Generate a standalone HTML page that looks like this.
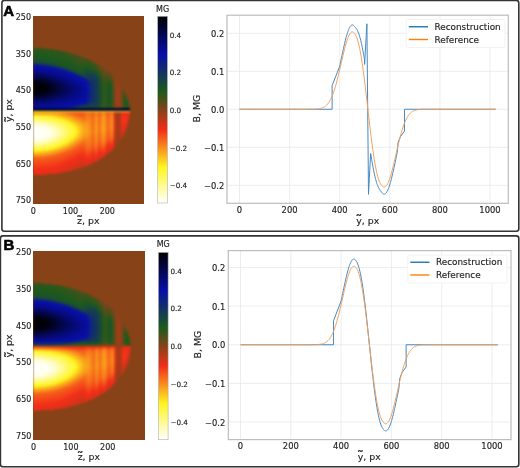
<!DOCTYPE html>
<html><head><meta charset="utf-8"><style>
html,body{margin:0;padding:0;background:#fff;}
#w{position:relative;width:520px;height:468px;overflow:hidden;background:#fff;filter:blur(0.3px);}
.hm{position:absolute;}
.hm div{position:absolute;width:1px;}
.bg{position:absolute;background:#884218;}
svg{position:absolute;left:0;top:0;}
text{font-family:"DejaVu Sans","Liberation Sans",sans-serif;fill:#1e1e1e;stroke:#1e1e1e;stroke-width:0.15px;}
.lab{font-family:"Liberation Sans","DejaVu Sans",sans-serif;font-weight:bold;font-size:15px;fill:#000;stroke:#000;stroke-width:0.6px;}
.t8{font-size:8px;}
.t7{font-size:7.2px;}
.t85{font-size:8.4px;}
.t87{font-size:8.85px;}
.al{font-size:9.4px;}
.tl{font-size:10px;stroke-width:0.3px;}
.grid{stroke:#e8e8e8;stroke-width:0.8;}
</style></head><body><div id="w">

<div class="bg" style="left:32.70px;top:16.10px;width:111.20px;height:188.40px;overflow:hidden"><div class="hm" style="left:-32.70px;top:-16.10px;width:520px;height:468px;filter:blur(0.8px)">
<div style="left:33px;top:16.10px;height:188.40px;background:linear-gradient(#884218 0.0px,#884218 32.0px,#31561a 32.5px,#1e5a1b 38.5px,#1c5229 45.0px,#174445 47.0px,#09139f 49.5px,#080ea7 51.0px,#070c8d 55.0px,#000108 66.5px,#000000 72.0px,#000108 77.5px,#050967 85.5px,#070c90 89.5px,#070d9d 91.5px,#03053b 92.0px,#03053b 94.5px,#fff51e 95.0px,#fff51e 96.0px,#faa51c 96.5px,#faa51c 99.0px,#fff41e 99.5px,#fffcc6 107.5px,#fffeee 110.5px,#fffffe 117.0px,#fffef1 123.5px,#fffdca 126.5px,#fff523 134.5px,#ffee1e 135.0px,#fbb51c 137.5px,#f5611a 142.5px,#f33619 151.5px,#f12d19 154.5px,#e23019 159.0px,#884218 159.5px,#884218 188.0px)"></div>
<div style="left:34px;top:16.10px;height:188.40px;background:linear-gradient(#884218 0.0px,#884218 32.0px,#32561a 32.5px,#1e5a1b 38.5px,#1c5229 45.0px,#184444 47.0px,#09139f 49.5px,#080ea7 51.0px,#070c8d 55.0px,#000108 66.5px,#000001 72.0px,#000108 77.5px,#050967 85.5px,#070c8c 89.0px,#070d9d 91.5px,#03053b 92.0px,#03053b 94.5px,#fff51e 95.0px,#fff51e 96.0px,#faa51c 96.5px,#faa51c 99.0px,#fff31e 99.5px,#fffcc5 107.5px,#fffff4 111.0px,#fffffe 117.0px,#fffef1 123.5px,#fffdc9 126.5px,#fff523 134.5px,#ffee1e 135.0px,#fbb51c 137.5px,#f5611a 142.5px,#f33619 151.5px,#f12d19 154.5px,#e23019 159.0px,#884218 159.5px,#884218 188.0px)"></div>
<div style="left:35px;top:16.10px;height:188.40px;background:linear-gradient(#884218 0.0px,#884218 32.0px,#32561a 32.5px,#1e5a1b 38.5px,#1c5229 45.0px,#184443 47.0px,#0a139e 49.5px,#080ea7 51.0px,#070c8d 55.0px,#000108 66.5px,#000002 72.0px,#000108 77.5px,#050968 85.5px,#070c8c 89.0px,#070d9d 91.5px,#03053b 92.0px,#03053b 94.5px,#fff51e 95.0px,#fff51e 96.0px,#faa51c 96.5px,#faa51c 99.0px,#fff31e 99.5px,#fff529 100.0px,#fffcc4 107.5px,#fffef3 111.0px,#fffffd 117.0px,#fffef0 123.5px,#fffdc9 126.5px,#fff522 134.5px,#feed1e 135.0px,#fbb41c 137.5px,#f5611a 142.5px,#f22e19 154.0px,#e33019 158.5px,#884218 159.0px,#884218 188.0px)"></div>
<div style="left:36px;top:16.10px;height:188.40px;background:linear-gradient(#884218 0.0px,#884218 32.0px,#32561a 32.5px,#1e5a1b 38.5px,#1c5329 45.0px,#184541 47.0px,#0a149d 49.5px,#080ea8 51.0px,#070c8e 55.0px,#000108 67.0px,#000002 72.0px,#000108 77.5px,#050968 85.5px,#070c8c 89.0px,#070d9d 91.5px,#03053b 92.0px,#03053b 94.5px,#fff51e 95.0px,#fff51e 96.0px,#faa51c 96.5px,#faa51c 99.0px,#fff21e 99.5px,#fff528 100.0px,#fffcc3 107.5px,#fffef2 111.0px,#fffffc 117.0px,#fffeef 123.5px,#fffdc8 126.5px,#fff521 134.5px,#feec1e 135.0px,#fbb31c 137.5px,#f5601a 142.5px,#f22e19 154.0px,#e33019 158.5px,#884218 159.0px,#884218 188.0px)"></div>
<div style="left:37px;top:16.10px;height:188.40px;background:linear-gradient(#884218 0.0px,#884218 32.0px,#32561a 32.5px,#1e5a1b 38.5px,#1c5329 45.0px,#18463f 47.0px,#0a159b 49.5px,#080ea8 51.0px,#070c8e 55.0px,#000108 67.0px,#000003 72.0px,#000109 77.5px,#050968 85.5px,#070c8d 89.0px,#070d9d 91.5px,#03053b 92.0px,#03053b 94.5px,#fff51e 95.0px,#fff51e 96.0px,#faa51c 96.5px,#faa51c 99.0px,#fff11e 99.5px,#fff527 100.0px,#fffcc2 107.5px,#fffef1 111.0px,#fffffb 117.0px,#fffef3 123.0px,#fffcc6 126.5px,#fff520 134.5px,#feeb1e 135.0px,#fbb31c 137.5px,#f5601a 142.5px,#f22d19 154.0px,#e33019 158.5px,#884218 159.0px,#884218 188.0px)"></div>
<div style="left:38px;top:16.10px;height:188.40px;background:linear-gradient(#884218 0.0px,#884218 32.0px,#32551a 32.5px,#1e5a1b 38.5px,#1c5329 45.0px,#19473e 47.0px,#0a1699 49.5px,#080ea8 51.0px,#070c8f 55.0px,#000108 67.0px,#000003 72.5px,#00010a 77.5px,#050969 85.5px,#070c8d 89.0px,#080d9e 91.5px,#03053b 92.0px,#03053b 94.5px,#fff51e 95.0px,#fff51e 96.0px,#faa51c 96.5px,#faa51c 99.0px,#fff01e 99.5px,#fff525 100.0px,#fffcc0 107.5px,#fffee2 110.0px,#fffff4 111.5px,#fffffb 117.0px,#fffff4 122.5px,#fffedf 124.5px,#fffcc4 126.5px,#fff51e 134.5px,#fbb21c 137.5px,#f55f1a 142.5px,#f33719 151.0px,#f22d19 154.0px,#e33019 158.5px,#884218 159.0px,#884218 188.0px)"></div>
<div style="left:39px;top:16.10px;height:188.40px;background:linear-gradient(#884218 0.0px,#884218 32.0px,#32551a 32.5px,#1e5a1b 38.5px,#1c5328 45.0px,#19483d 47.0px,#0b1797 49.5px,#0911a2 50.0px,#080ea7 51.0px,#070c8b 55.5px,#020329 64.0px,#000108 67.5px,#000108 77.0px,#02042c 80.5px,#050865 85.0px,#070c8e 89.0px,#080d9e 91.5px,#03053b 92.0px,#03053b 94.5px,#fff51e 95.0px,#fff51e 96.0px,#faa51c 96.5px,#faa51c 99.0px,#ffef1e 99.5px,#fff524 100.0px,#fffdce 108.5px,#fffef3 111.5px,#fffffa 117.0px,#fffff4 122.5px,#fffdd0 125.5px,#fffcc1 126.5px,#fff31e 134.5px,#fbb01c 137.5px,#f55f1a 142.5px,#f33719 151.0px,#f22d19 154.0px,#e33019 158.5px,#884218 159.0px,#884218 188.0px)"></div>
<div style="left:40px;top:16.10px;height:188.40px;background:linear-gradient(#884218 0.0px,#884218 32.0px,#33551a 32.5px,#1e5a1b 38.5px,#1c5328 45.0px,#19483c 47.0px,#0912a1 50.0px,#080fa7 51.0px,#070c8c 55.5px,#000108 67.5px,#000109 77.0px,#050866 85.0px,#070c8e 89.0px,#080d9e 91.5px,#03053b 92.0px,#03053b 94.5px,#fff51e 95.0px,#fff51e 96.0px,#faa51c 96.5px,#faa51c 99.0px,#ffed1e 99.5px,#fff522 100.0px,#fffdcc 108.5px,#fffff4 112.0px,#fffff9 117.0px,#fffef2 122.5px,#fffdc8 126.0px,#fff11e 134.5px,#faaf1c 137.5px,#f55e1a 142.5px,#f33719 151.0px,#f22d19 154.0px,#e33019 158.5px,#884218 159.0px,#884218 188.0px)"></div>
<div style="left:41px;top:16.10px;height:188.40px;background:linear-gradient(#884218 0.0px,#884218 32.0px,#33551a 32.5px,#1f5a1b 38.5px,#1c5229 45.5px,#174247 47.5px,#0912a1 50.0px,#080ea7 51.5px,#070c8d 55.5px,#020327 64.5px,#000108 68.0px,#000108 76.5px,#070c8f 89.0px,#080d9f 91.5px,#03053b 92.0px,#03053b 94.5px,#fff51e 95.0px,#fff51e 96.0px,#faa51c 96.5px,#faa51c 99.0px,#feec1e 99.5px,#fff520 100.0px,#fffdca 108.5px,#fffef3 112.0px,#fffff8 117.0px,#fffff4 122.0px,#fffdcc 125.5px,#fff524 134.0px,#ffef1e 134.5px,#fbb61c 137.0px,#f6631a 142.0px,#f33619 151.0px,#f22d19 154.0px,#e23019 158.5px,#884218 159.0px,#884218 188.0px)"></div>
<div style="left:42px;top:16.10px;height:188.40px;background:linear-gradient(#884218 0.0px,#884218 32.0px,#33551a 32.5px,#1e5a1b 39.0px,#1c5229 45.5px,#184443 47.5px,#0a149d 50.0px,#080ea8 51.5px,#070c8e 55.5px,#000109 68.0px,#00010a 76.5px,#070c8b 88.5px,#080d9f 91.5px,#03053b 92.0px,#03053b 94.5px,#fff51e 95.0px,#fff51e 96.0px,#faa51c 96.5px,#faa51c 99.0px,#feea1e 99.5px,#fff51e 100.0px,#fffdc8 108.5px,#fffff4 112.5px,#fffff8 117.0px,#fffff4 121.5px,#fffdc9 125.5px,#fff521 134.0px,#feec1e 134.5px,#fbb41c 137.0px,#f5621a 142.0px,#f22e19 153.5px,#e23019 158.5px,#884218 159.0px,#884218 188.0px)"></div>
<div style="left:43px;top:16.10px;height:188.40px;background:linear-gradient(#884218 0.0px,#884218 32.0px,#33551a 32.5px,#1e5a1b 39.0px,#1c5329 45.5px,#19473e 47.5px,#0a1699 50.0px,#080ea8 51.5px,#070c8f 55.5px,#02042c 64.5px,#000108 68.5px,#000109 76.0px,#020328 79.5px,#070c8c 88.5px,#080da0 91.5px,#03053b 92.0px,#03053b 94.5px,#fff51e 95.0px,#fff51e 96.0px,#faa51c 96.5px,#faa51c 99.0px,#fee81e 99.5px,#fff528 100.5px,#fffdcc 109.0px,#fffef2 112.5px,#fffff7 117.0px,#fffef2 121.5px,#fffdc7 125.5px,#fff41e 134.0px,#fbb21c 137.0px,#f5601a 142.0px,#f33619 151.0px,#f12d19 154.0px,#e23019 158.5px,#884218 159.0px,#884218 188.0px)"></div>
<div style="left:44px;top:16.10px;height:188.40px;background:linear-gradient(#884218 0.0px,#884218 32.0px,#34551a 32.5px,#1e5a1b 39.0px,#1c5328 45.5px,#19483d 47.5px,#0b1895 50.0px,#0911a2 50.5px,#080fa7 51.5px,#070c8c 56.0px,#02032a 65.0px,#000109 69.0px,#000109 75.5px,#02032a 79.5px,#070c8d 88.5px,#080da0 91.5px,#03053b 92.0px,#03053b 94.5px,#fff51e 95.0px,#fff51e 96.0px,#faa51c 96.5px,#faa51c 99.0px,#fee51e 99.5px,#fff525 100.5px,#fffdc9 109.0px,#fffef2 113.0px,#fffff6 117.0px,#fffef2 121.0px,#fffdca 125.0px,#fff11e 134.0px,#fbb01c 137.0px,#f55f1a 142.0px,#f33519 151.0px,#f22d19 153.5px,#e23019 158.5px,#884218 159.0px,#884218 188.0px)"></div>
<div style="left:45px;top:16.10px;height:188.40px;background:linear-gradient(#884218 0.0px,#884218 32.5px,#33551a 33.0px,#1f5a1b 39.0px,#1c5328 45.5px,#19493b 47.5px,#0912a1 50.5px,#080ea7 52.0px,#070c8e 56.0px,#020328 65.5px,#000108 70.0px,#000108 74.5px,#010213 76.5px,#02042d 79.5px,#070c8e 88.5px,#080da1 91.5px,#03053b 92.0px,#03053b 94.5px,#fff51e 95.0px,#fff51e 96.0px,#faa51c 96.5px,#faa51c 99.0px,#fee31e 99.5px,#fff522 100.5px,#fffcc6 109.0px,#fffef2 113.5px,#fffff5 117.0px,#fffef2 120.5px,#fffcc6 125.0px,#fff522 133.5px,#ffee1e 134.0px,#fbb61c 136.5px,#f55e1a 142.0px,#f22d19 153.5px,#e13019 158.5px,#884218 159.0px,#884218 188.0px)"></div>
<div style="left:46px;top:16.10px;height:188.40px;background:linear-gradient(#884218 0.0px,#884218 32.5px,#33551a 33.0px,#1e5a1b 39.5px,#1c5329 46.0px,#184541 48.0px,#0a159b 50.5px,#080ea8 52.0px,#070c8f 56.0px,#02042b 65.5px,#000109 70.5px,#000109 74.0px,#01021a 77.0px,#070c8f 88.5px,#080da1 91.5px,#03053b 92.0px,#03053b 94.5px,#fff51e 95.0px,#fff51e 96.0px,#faa41c 96.5px,#faa51c 99.0px,#fee01d 99.5px,#fff51f 100.5px,#fffdc9 109.5px,#fffef1 114.0px,#fffff5 117.0px,#fffef1 120.0px,#fffdc8 124.5px,#fff51e 133.5px,#fbb31c 136.5px,#f5621a 141.5px,#f33619 150.5px,#f22d19 153.5px,#e13019 158.5px,#884218 159.0px,#884218 188.0px)"></div>
<div style="left:47px;top:16.10px;height:188.40px;background:linear-gradient(#884218 0.0px,#884218 32.5px,#33551a 33.0px,#1e5a1b 39.5px,#1c5329 46.0px,#19483d 48.0px,#0b1896 50.5px,#0911a2 51.0px,#080fa7 52.0px,#070c8d 56.5px,#020326 66.5px,#01010c 71.0px,#01010d 74.0px,#020321 77.5px,#070c8b 88.0px,#080ea2 91.5px,#03053b 92.0px,#03053b 94.5px,#fff51e 95.0px,#fff51e 96.0px,#faa21c 96.5px,#faa51c 99.0px,#fddd1d 99.5px,#fff31e 100.5px,#fff528 101.0px,#fffcc5 109.5px,#fffeec 114.0px,#fffff4 117.0px,#fffeec 120.0px,#fffdca 124.0px,#fff11e 133.5px,#fbb01c 136.5px,#f55f1a 141.5px,#f22e19 153.0px,#e23019 158.0px,#884218 158.5px,#884218 188.0px)"></div>
<div style="left:48px;top:16.10px;height:188.40px;background:linear-gradient(#884218 0.0px,#884218 32.5px,#34551a 33.0px,#1e5a1b 39.5px,#1c5328 46.0px,#19493b 48.0px,#0912a0 51.0px,#080ea7 52.5px,#070c8f 56.5px,#020329 66.5px,#010111 71.0px,#010111 74.0px,#020324 77.5px,#070c8d 88.0px,#080ea3 91.5px,#03053b 92.0px,#03053b 94.5px,#fff51e 95.0px,#fff51e 96.0px,#f9a01c 96.5px,#faa51c 99.0px,#fdda1d 99.5px,#fff524 101.0px,#fffdc8 110.0px,#fffee7 114.0px,#fffef0 117.0px,#fffee6 120.0px,#fffcc5 124.0px,#fff520 133.0px,#feec1e 133.5px,#fbb61c 136.0px,#f55e1a 141.5px,#f22d19 153.0px,#e23019 158.0px,#884218 158.5px,#884218 188.0px)"></div>
<div style="left:49px;top:16.10px;height:188.40px;background:linear-gradient(#884218 0.0px,#884218 32.5px,#34551a 33.0px,#1e5a1b 40.0px,#1c5329 46.5px,#184640 48.5px,#0a169a 51.0px,#080ea8 52.5px,#070c8c 57.0px,#020329 67.0px,#010215 71.0px,#010216 74.0px,#020327 77.5px,#070c8e 88.0px,#080ea4 91.5px,#03053b 92.0px,#03053b 94.5px,#fff51e 95.0px,#fff51e 96.0px,#f99e1c 96.5px,#faa51c 97.0px,#faa51c 99.0px,#fdd71d 99.5px,#fff521 101.0px,#fff637 102.0px,#fffdc9 110.5px,#fffee3 114.0px,#fffeea 117.0px,#fffee1 120.0px,#fffcc6 123.5px,#fff21e 133.0px,#fbb21c 136.0px,#f5621a 141.0px,#f33719 150.0px,#f22d19 153.0px,#e13019 158.0px,#884218 158.5px,#884218 188.0px)"></div>
<div style="left:50px;top:16.10px;height:188.40px;background:linear-gradient(#884218 0.0px,#884218 33.0px,#33551a 33.5px,#1e5a1b 40.0px,#1c5328 46.5px,#19483d 48.5px,#0912a1 51.5px,#080ea7 53.0px,#070c8e 57.0px,#02032a 67.5px,#010218 72.5px,#02042b 77.5px,#070c8f 88.0px,#080ea4 91.5px,#03053b 92.0px,#03053b 94.5px,#fff51e 95.0px,#fff51e 96.0px,#f99c1c 96.5px,#faa41c 97.0px,#faa51c 99.0px,#fdd41d 99.5px,#fff41e 101.0px,#fffcc4 110.5px,#fffede 114.0px,#fffee5 117.0px,#fffddc 120.0px,#fffcc7 123.0px,#fff521 132.5px,#ffed1e 133.0px,#faaf1c 136.0px,#f55f1a 141.0px,#f22e19 152.5px,#e13019 158.0px,#884218 158.5px,#884218 188.0px)"></div>
<div style="left:51px;top:16.10px;height:188.40px;background:linear-gradient(#884218 0.0px,#884218 33.0px,#34551a 33.5px,#1f5a1b 40.0px,#1c5229 47.0px,#184444 49.0px,#0a149c 51.5px,#080ea8 53.0px,#070c8c 57.5px,#02042b 68.0px,#01021c 72.5px,#02042b 77.0px,#070c8c 87.5px,#080ea5 91.5px,#03053b 92.0px,#03053b 94.5px,#fff51e 95.0px,#fff51e 96.0px,#f99a1c 96.5px,#faa51c 97.5px,#faa51c 99.0px,#fdd01d 99.5px,#fff524 101.5px,#fffcc4 111.0px,#fffdd9 114.0px,#fffee0 117.0px,#fffdd9 119.5px,#fffcc6 122.5px,#fff31e 132.5px,#fbb31c 135.5px,#f55e1a 141.0px,#f22d19 152.5px,#e13019 158.0px,#884218 158.5px,#884218 188.0px)"></div>
<div style="left:52px;top:16.10px;height:188.40px;background:linear-gradient(#884218 0.0px,#884218 33.0px,#34551a 33.5px,#1e5a1b 40.5px,#1c5329 47.0px,#19473e 49.0px,#0b1896 51.5px,#0911a2 52.0px,#080fa7 53.0px,#070c8e 57.5px,#02042f 68.0px,#020320 72.5px,#020432 77.5px,#070c8e 87.5px,#080ea6 91.5px,#03053b 92.0px,#03053b 94.5px,#fff51e 95.0px,#fff51e 96.0px,#f9971c 96.5px,#faa51c 97.5px,#faa51c 99.0px,#fccd1d 99.5px,#fff51f 101.5px,#fff74f 104.0px,#fffcc3 111.5px,#fffdd4 114.0px,#fffdda 117.0px,#fffcc4 122.0px,#fff750 129.5px,#fff521 132.0px,#ffed1e 132.5px,#fab01c 135.5px,#f5611a 140.5px,#f22e19 152.0px,#e03019 158.0px,#884218 158.5px,#884218 188.0px)"></div>
<div style="left:53px;top:16.10px;height:188.40px;background:linear-gradient(#884218 0.0px,#884218 33.0px,#34551a 33.5px,#1e5a1b 40.5px,#1c5328 47.0px,#19493b 49.0px,#09139f 52.0px,#080ea8 53.5px,#070c8c 58.0px,#030536 67.5px,#020324 72.5px,#030435 77.5px,#070c8f 87.5px,#080ea7 91.5px,#03053b 92.0px,#03053b 94.5px,#fff51e 95.0px,#fff51e 96.0px,#f9951c 96.5px,#faa41c 97.5px,#faa51c 99.0px,#fcc91d 99.5px,#fff21e 101.5px,#fff526 102.0px,#fffa92 108.5px,#fffcbc 111.5px,#fffdcd 113.5px,#fffdd5 116.5px,#fffdcf 119.5px,#fffcbc 122.0px,#fff85b 128.5px,#fff21e 132.0px,#fbb41c 135.0px,#f55e1a 140.5px,#f22e19 152.0px,#e13019 157.5px,#884218 158.0px,#884218 188.0px)"></div>
<div style="left:54px;top:16.10px;height:188.40px;background:linear-gradient(#884218 0.0px,#884218 33.5px,#34551a 34.0px,#1e5a1b 41.0px,#1c5329 47.5px,#18463f 49.5px,#0b1798 52.0px,#0911a2 52.5px,#080ea7 53.5px,#070c8e 58.0px,#030537 68.0px,#020327 72.5px,#030538 77.5px,#070c8c 87.0px,#080ea7 91.5px,#03053b 92.0px,#03053b 94.5px,#fff51e 95.0px,#fff51e 96.0px,#f9921c 96.5px,#faa21c 97.5px,#faa51c 99.0px,#fcc51d 99.5px,#fff521 102.0px,#fff74f 104.5px,#fffbaf 111.0px,#fffdc8 113.5px,#fffdcf 116.5px,#fffdc7 120.0px,#fffcb4 122.0px,#fff74d 129.0px,#fff51f 131.5px,#faaf1c 135.0px,#f5611a 140.0px,#f22d19 152.0px,#e13019 157.5px,#884218 158.0px,#884218 188.0px)"></div>
<div style="left:55px;top:16.10px;height:188.40px;background:linear-gradient(#884218 0.0px,#884218 33.5px,#34551a 34.0px,#1e5a1b 41.0px,#1c5328 47.5px,#19483c 49.5px,#0912a0 52.5px,#080ea8 54.0px,#070c8c 58.5px,#03053e 67.5px,#02042b 72.5px,#03053c 77.5px,#070c8d 87.0px,#080ea8 91.5px,#03053b 92.0px,#03053b 94.5px,#fff51e 95.0px,#fff51e 96.0px,#f88f1b 96.5px,#faa51c 98.0px,#faa51c 99.0px,#fcc11d 99.5px,#fff31e 102.0px,#fff752 105.0px,#fffba8 111.0px,#fffcc3 114.0px,#fffdca 116.5px,#fffcc5 119.0px,#fffbab 122.0px,#fff857 128.0px,#fff523 131.0px,#fff01e 131.5px,#fbb31c 134.5px,#f55f1a 140.0px,#f22e19 151.5px,#e03119 157.5px,#884218 158.0px,#884218 188.0px)"></div>
<div style="left:56px;top:16.10px;height:188.40px;background:linear-gradient(#884218 0.0px,#884218 33.5px,#35551a 34.0px,#1f5a1b 41.0px,#1c5229 48.0px,#184641 50.0px,#0a1699 52.5px,#080ea7 54.0px,#070c8f 58.5px,#03053f 68.0px,#02042f 72.5px,#03053f 77.5px,#070c8f 87.0px,#080ea7 91.5px,#03053b 92.0px,#03053b 94.5px,#fff51e 95.0px,#fff51e 96.0px,#f88d1b 96.5px,#faa31c 98.0px,#faa51c 99.0px,#fbbc1d 99.5px,#fff522 102.5px,#fff74e 105.0px,#fffba0 111.0px,#fffcbb 114.0px,#fffcc3 116.5px,#fffcbc 119.0px,#fffba3 122.0px,#fff751 128.0px,#fff31e 131.0px,#fbb71c 134.0px,#f5611a 139.5px,#f22d19 151.5px,#e03119 157.5px,#884218 158.0px,#884218 188.0px)"></div>
<div style="left:57px;top:16.10px;height:188.40px;background:linear-gradient(#884218 0.0px,#884218 34.0px,#34551a 34.5px,#1e5a1b 41.5px,#1c5328 48.0px,#19483c 50.0px,#0912a0 53.0px,#080ea8 54.5px,#070c8d 59.0px,#030643 68.0px,#020433 73.0px,#030642 77.5px,#070c90 87.0px,#080fa6 91.5px,#03053b 92.0px,#03053b 94.5px,#fff51e 95.0px,#fff51e 96.0px,#f88a1b 96.5px,#faa01c 98.0px,#faa51c 99.0px,#fbb81c 99.5px,#fff31e 102.5px,#fff750 105.5px,#fffa99 111.0px,#fffcb2 114.0px,#fffcba 116.5px,#fffcb3 119.0px,#fffb9a 122.0px,#fff752 127.5px,#fff51f 130.5px,#fbb11c 134.0px,#f55e1a 139.5px,#f22e19 151.0px,#e03019 157.0px,#884218 157.5px,#884218 188.0px)"></div>
<div style="left:58px;top:16.10px;height:188.40px;background:linear-gradient(#884218 0.0px,#884218 34.0px,#35551a 34.5px,#1f5a1b 41.5px,#1c5229 48.5px,#184541 50.5px,#0a1698 53.0px,#080fa7 54.5px,#070c8f 59.0px,#030647 68.0px,#030537 73.0px,#030646 77.5px,#070c8e 86.5px,#080ea8 91.0px,#080fa6 91.5px,#03053b 92.0px,#03053b 94.5px,#fff51e 95.0px,#fff51e 96.0px,#f8871b 96.5px,#faa51c 98.5px,#faa51c 99.0px,#fff521 103.0px,#fff752 106.0px,#fffa91 111.0px,#fffbaa 114.0px,#fffcb1 116.5px,#fffbaa 119.0px,#fffa91 122.0px,#fff753 127.0px,#fff521 130.0px,#ffef1e 130.5px,#fbb41c 133.5px,#f5611a 139.0px,#f22d19 151.0px,#e03119 157.0px,#884218 157.5px,#884218 188.0px)"></div>
<div style="left:59px;top:16.10px;height:188.40px;background:linear-gradient(#884218 0.0px,#884218 34.0px,#35551a 34.5px,#1e5a1b 42.0px,#1c5328 48.5px,#19483c 50.5px,#09139f 53.5px,#080ea8 55.0px,#070c8e 59.5px,#04064c 68.0px,#03053b 73.0px,#030649 77.5px,#070c8f 86.5px,#080ea7 91.0px,#0810a5 91.5px,#03053b 92.0px,#03053b 94.5px,#fff51e 95.0px,#fff51e 96.0px,#f8841b 96.5px,#faa51c 99.0px,#fff21e 103.0px,#fff525 103.5px,#fff754 106.5px,#fffa8a 111.0px,#fffba1 114.0px,#fffba8 116.5px,#fffba1 119.0px,#fffa89 122.0px,#fff753 126.5px,#fff11e 130.0px,#fbb71c 133.0px,#f55e1a 139.0px,#f22e19 150.5px,#df3119 157.0px,#884218 157.5px,#884218 188.0px)"></div>
<div style="left:60px;top:16.10px;height:188.40px;background:linear-gradient(#884218 0.0px,#884218 34.5px,#36551a 35.0px,#1e5a1b 42.5px,#1c5329 49.0px,#18463f 51.0px,#0b1896 53.5px,#0911a2 54.0px,#080fa7 55.0px,#070c90 59.5px,#04064d 68.5px,#030540 73.0px,#04064d 77.5px,#070c90 86.5px,#080fa7 91.0px,#0910a4 91.5px,#03053b 92.0px,#03053b 94.5px,#fff51e 95.0px,#fff51e 96.0px,#f7801b 96.5px,#fbb41c 100.0px,#fff51f 103.5px,#fff74f 106.5px,#fff982 111.0px,#fffa99 114.0px,#fffb9f 116.5px,#fffa98 119.0px,#fffa85 121.5px,#fff753 126.0px,#fff21e 129.5px,#fbb11c 133.0px,#f55f1a 138.5px,#f22e19 150.0px,#df3119 156.5px,#884218 157.0px,#884218 188.0px)"></div>
<div style="left:61px;top:16.10px;height:188.40px;background:linear-gradient(#884218 0.0px,#884218 34.5px,#37541a 35.0px,#1e5a1b 43.0px,#1c5328 49.0px,#19493b 51.0px,#0a149d 54.0px,#080ea8 55.5px,#070c8f 60.0px,#040751 68.5px,#030644 73.0px,#040753 78.0px,#070c8f 86.0px,#080ea8 90.5px,#0910a3 91.5px,#03053b 92.0px,#03053b 94.5px,#fff51e 95.0px,#fff51e 96.0px,#f77d1b 96.5px,#fbb01c 100.0px,#fff522 104.0px,#fff750 107.0px,#fff97f 111.5px,#fffa90 114.0px,#fffa95 116.5px,#fffa8c 119.5px,#fff973 122.5px,#fff745 126.5px,#fff31e 129.0px,#fbb31c 132.5px,#f5611a 138.0px,#f22e19 149.5px,#de3119 156.5px,#884218 157.0px,#884218 188.0px)"></div>
<div style="left:62px;top:16.10px;height:188.40px;background:linear-gradient(#884218 0.0px,#884218 35.0px,#38541a 35.5px,#1e5a1b 43.5px,#1c5328 49.5px,#19483d 51.5px,#102a75 53.0px,#0912a1 54.5px,#080ea7 56.0px,#040755 68.5px,#030648 73.0px,#040754 77.5px,#070c90 86.0px,#080ea8 90.5px,#0911a3 91.5px,#03053b 92.0px,#03053b 94.5px,#fff51e 95.0px,#fff51e 96.0px,#f77a1b 96.5px,#fbb31c 100.5px,#fff31e 104.0px,#fff744 106.5px,#fff96f 110.5px,#fffa85 113.5px,#fffa8c 116.5px,#fffa85 119.0px,#fff86b 122.5px,#fff63e 126.5px,#fff41e 128.5px,#fbb41c 132.0px,#f55e1a 138.0px,#f22e19 149.0px,#dc3119 156.5px,#884218 157.0px,#884218 188.0px)"></div>
<div style="left:63px;top:16.10px;height:188.40px;background:linear-gradient(#884218 0.0px,#884218 35.0px,#39541a 35.5px,#1e5a1b 44.0px,#1c5427 49.5px,#194a3a 51.5px,#184444 52.0px,#0a1699 54.5px,#080fa7 56.0px,#070c8e 61.0px,#04075a 68.5px,#04064c 73.0px,#040757 77.5px,#070c8e 85.5px,#080fa7 90.5px,#0911a2 91.5px,#03053b 92.0px,#03053b 94.5px,#fff51e 95.0px,#fff51e 96.0px,#f7761b 96.5px,#fbb71c 101.0px,#fff51e 104.5px,#fff638 106.0px,#fff864 110.0px,#fff97c 113.5px,#fff983 116.0px,#fff97e 118.5px,#fff868 122.0px,#fff63d 126.0px,#fff41e 128.0px,#fbb61c 131.5px,#f55e1a 137.5px,#f22e19 148.5px,#dc3119 156.0px,#884218 156.5px,#884218 188.0px)"></div>
<div style="left:64px;top:16.10px;height:188.40px;background:linear-gradient(#884218 0.0px,#884218 35.0px,#3a541a 35.5px,#1e5a1b 44.5px,#1c5327 50.0px,#19483c 52.0px,#0a139e 55.0px,#080ea8 56.5px,#04085b 69.0px,#040750 73.5px,#04085e 78.0px,#080ea8 90.0px,#0912a1 91.5px,#03053b 92.0px,#03053b 94.5px,#fff51e 95.0px,#fff51e 96.0px,#f7731b 96.5px,#fbb21c 101.0px,#fff520 105.0px,#fff63e 107.0px,#fff862 110.5px,#fff974 113.5px,#fff97a 116.0px,#fff976 118.5px,#fff864 121.5px,#fff63c 125.5px,#fff41e 127.5px,#fbb71c 131.0px,#f5611a 137.0px,#f22e19 148.0px,#db3219 156.0px,#884218 156.5px,#884218 188.0px)"></div>
<div style="left:65px;top:16.10px;height:188.40px;background:linear-gradient(#884218 0.0px,#884218 35.5px,#3b531a 36.0px,#1e5a1b 45.0px,#1c5327 50.5px,#19473e 52.5px,#102976 54.0px,#0912a1 55.5px,#080ea7 57.0px,#050860 69.0px,#040754 73.5px,#050861 78.0px,#080ea7 90.0px,#0a149c 91.5px,#03053b 92.0px,#03053b 94.5px,#fff51e 95.0px,#fff51e 96.0px,#f66f1b 96.5px,#fff521 105.5px,#fff639 107.0px,#fff85b 110.5px,#fff96d 113.5px,#fff972 116.0px,#fff96e 118.5px,#fff85c 121.5px,#fff63b 125.0px,#fff31e 127.0px,#fbb01c 131.0px,#f55d1a 137.0px,#f22e19 147.5px,#da3219 156.0px,#884218 156.5px,#884218 188.0px)"></div>
<div style="left:66px;top:16.10px;height:188.40px;background:linear-gradient(#884218 0.0px,#884218 35.5px,#3c531a 36.0px,#1e5a1b 45.5px,#1c5427 50.5px,#19493a 52.5px,#0a1699 55.5px,#080fa7 57.0px,#050969 68.0px,#040759 73.5px,#050969 79.0px,#080fa6 90.0px,#0911a2 91.0px,#0b1797 91.5px,#03053b 92.0px,#03053b 94.5px,#fff51e 95.0px,#fff51e 96.0px,#f66b1b 96.5px,#fff522 106.0px,#fff638 107.5px,#fff858 111.0px,#fff86a 116.0px,#fff858 121.0px,#fff639 124.5px,#fff523 126.0px,#f55e1a 136.5px,#f22e19 147.0px,#d93219 155.5px,#884218 156.0px,#884218 188.0px)"></div>
<div style="left:67px;top:16.10px;height:188.40px;background:linear-gradient(#884218 0.0px,#884218 36.0px,#3d531a 36.5px,#1e5a1b 46.0px,#1c5427 51.0px,#19493b 53.0px,#0a149d 56.0px,#080ea7 57.5px,#05096c 68.0px,#04085d 73.5px,#05096c 79.0px,#080ea8 89.5px,#0912a0 91.0px,#0b1a92 91.5px,#03053b 92.0px,#03053b 94.5px,#fff51e 95.0px,#fff51e 96.0px,#f6681a 96.5px,#fbb21c 102.0px,#fff21e 106.0px,#fff751 111.0px,#fff863 116.0px,#fff750 121.0px,#fff636 124.0px,#fff520 125.5px,#f55e1a 136.0px,#f22e19 146.5px,#d83219 155.5px,#884218 156.0px,#884218 188.0px)"></div>
<div style="left:68px;top:16.10px;height:188.40px;background:linear-gradient(#884218 0.0px,#884218 36.0px,#3e531a 36.5px,#1e5a1b 46.5px,#1c5427 51.5px,#19483d 53.5px,#102a74 55.0px,#0912a1 56.5px,#080ea8 58.0px,#050970 68.0px,#050861 73.5px,#05096e 79.0px,#080fa7 89.5px,#0911a2 90.5px,#0c1d8c 91.5px,#03053b 92.0px,#03053b 94.5px,#fff51e 95.0px,#fff51e 96.0px,#f6641a 96.5px,#fff21e 106.5px,#fff74a 111.0px,#fff85b 116.0px,#fff748 121.0px,#fff51e 125.0px,#f55f1a 135.5px,#f22e19 146.0px,#d83219 155.0px,#884218 155.5px,#884218 188.0px)"></div>
<div style="left:69px;top:16.10px;height:188.40px;background:linear-gradient(#884218 0.0px,#884218 36.5px,#3f531a 37.0px,#1e591c 47.5px,#1c5328 52.0px,#194a39 53.5px,#184542 54.0px,#0f2878 55.5px,#0912a1 57.0px,#080ea7 58.5px,#050971 68.5px,#050865 73.5px,#050971 79.0px,#080ea8 89.0px,#0912a1 90.5px,#0d2087 91.5px,#03053b 92.0px,#03053b 94.5px,#fff51e 95.0px,#fff51e 96.0px,#f5601a 96.5px,#fff520 107.5px,#fff634 109.0px,#fff746 111.5px,#fff753 116.0px,#fff744 120.5px,#fff21e 124.5px,#f5601a 135.0px,#f22e19 145.5px,#d63319 155.0px,#884218 155.5px,#884218 188.0px)"></div>
<div style="left:70px;top:16.10px;height:188.40px;background:linear-gradient(#884218 0.0px,#884218 36.5px,#40521a 37.0px,#1e591c 48.0px,#1c5426 52.0px,#19493a 54.0px,#0a1699 57.0px,#0911a2 57.5px,#080ea7 59.0px,#050a72 69.0px,#050968 74.0px,#060a74 79.0px,#080ea7 89.0px,#0a139e 90.5px,#0e2381 91.5px,#03053b 92.0px,#03053b 94.5px,#fff51e 95.0px,#fff51e 96.0px,#f55e1a 96.5px,#fff51f 108.0px,#fff63c 111.0px,#fff74b 115.5px,#fff63f 120.0px,#fff41e 123.5px,#f5611a 134.5px,#f22e19 145.0px,#d63319 154.5px,#884218 155.0px,#884218 188.0px)"></div>
<div style="left:71px;top:16.10px;height:188.40px;background:linear-gradient(#884218 0.0px,#884218 37.0px,#41521a 37.5px,#1e591c 48.5px,#1c5426 52.5px,#19483c 54.5px,#0a149c 57.5px,#080fa7 59.0px,#060a76 69.0px,#05096c 74.0px,#060a75 78.5px,#080fa6 89.0px,#0911a2 90.0px,#0f267c 91.5px,#03053b 92.0px,#03053b 94.5px,#fff51e 95.0px,#fff51e 96.0px,#f55d1a 96.5px,#fff31e 108.5px,#fff638 111.5px,#fff743 115.5px,#fff639 119.5px,#fff51f 122.5px,#f5621a 134.0px,#f22e19 144.5px,#d43319 154.5px,#884218 155.0px,#884218 188.0px)"></div>
<div style="left:72px;top:16.10px;height:188.40px;background:linear-gradient(#884218 0.0px,#884218 37.5px,#42521a 38.0px,#1e591c 49.0px,#1c5427 53.0px,#19483d 55.0px,#102a73 56.5px,#09139f 58.0px,#080ea7 59.5px,#060a78 69.5px,#05096f 74.0px,#060a79 79.0px,#080ea8 88.5px,#0912a1 90.0px,#102976 91.5px,#03053b 92.0px,#03053b 94.5px,#fff51e 95.0px,#fff51e 96.0px,#f55c1a 96.5px,#f5621a 97.5px,#fff51e 109.5px,#fff635 112.5px,#fff63c 115.5px,#fff636 118.5px,#fff51f 121.5px,#f55e1a 134.0px,#f22e19 144.0px,#d43319 154.0px,#884218 154.5px,#884218 188.0px)"></div>
<div style="left:73px;top:16.10px;height:188.40px;background:linear-gradient(#884218 0.0px,#884218 37.5px,#43521a 38.0px,#1e591c 49.5px,#1c5327 53.5px,#194a38 55.0px,#184640 55.5px,#102976 57.0px,#0912a1 58.5px,#080ea8 60.0px,#060a7b 69.5px,#050a72 74.0px,#060a7a 78.5px,#080fa7 88.5px,#0a159b 90.0px,#112c70 91.5px,#03053b 92.0px,#03053b 94.5px,#fff51e 95.0px,#fff51e 96.0px,#f55b1a 96.5px,#f6641a 98.0px,#fdd31d 107.0px,#fff11e 110.0px,#fff634 115.5px,#fff41e 120.5px,#fdd71d 123.5px,#f55e1a 133.5px,#f22e19 143.5px,#d33319 154.0px,#884218 154.5px,#884218 188.0px)"></div>
<div style="left:74px;top:16.10px;height:188.40px;background:linear-gradient(#884218 0.0px,#884218 38.0px,#44511a 38.5px,#1e5a1b 49.5px,#1c5426 53.5px,#194a39 55.5px,#0912a1 59.0px,#080ea8 60.5px,#060b7f 69.5px,#060a75 74.0px,#060a7d 78.5px,#080ea8 88.0px,#0912a1 89.5px,#123069 91.5px,#03053b 92.0px,#03053b 94.5px,#fff51e 95.0px,#fff51e 96.0px,#f5591a 96.5px,#f5601a 98.0px,#fee91e 110.0px,#fff51f 112.0px,#fff529 115.5px,#ffee1e 120.0px,#fdd31d 123.0px,#f55e1a 133.0px,#f22e19 143.0px,#d23319 153.5px,#884218 154.0px,#884218 188.0px)"></div>
<div style="left:75px;top:16.10px;height:188.40px;background:linear-gradient(#884218 0.0px,#884218 38.0px,#45511a 38.5px,#1e5a1b 50.0px,#1c5426 54.0px,#19493a 56.0px,#0912a1 59.5px,#080ea8 61.0px,#060b81 70.0px,#060a79 74.5px,#060b80 78.5px,#080fa7 88.0px,#0a149c 89.5px,#133461 91.5px,#03053b 92.0px,#03053b 94.5px,#fff51e 95.0px,#fff51e 96.0px,#f5581a 96.5px,#f5621a 98.5px,#fddd1d 109.5px,#fff01e 112.5px,#fff51e 115.0px,#fff01e 118.0px,#fddc1d 121.0px,#f55e1a 132.5px,#f22e19 142.5px,#d13419 153.5px,#884218 154.0px,#884218 188.0px)"></div>
<div style="left:76px;top:16.10px;height:188.40px;background:linear-gradient(#884218 0.0px,#884218 38.5px,#46511a 39.0px,#1e5a1b 50.5px,#1c5426 54.5px,#19493b 56.5px,#0b1797 59.5px,#0911a2 60.0px,#080ea8 61.5px,#060b83 70.5px,#060a7c 74.5px,#060b83 78.5px,#080ea8 87.5px,#0912a1 89.0px,#14385a 91.5px,#03053b 92.0px,#03053b 94.5px,#fff51e 95.0px,#fff51e 96.0px,#f5571a 96.5px,#f55f1a 98.5px,#f9991c 103.5px,#fdd81d 110.0px,#fee81e 113.0px,#feec1e 115.5px,#fee61e 118.0px,#fdd21d 121.0px,#f5611a 131.5px,#f22e19 142.0px,#d03419 153.0px,#884218 153.5px,#884218 188.0px)"></div>
<div style="left:77px;top:16.10px;height:188.40px;background:linear-gradient(#884218 0.0px,#884218 39.0px,#47511a 39.5px,#1e5a1b 51.0px,#1c5426 55.0px,#19483c 57.0px,#0a1798 60.0px,#0911a2 60.5px,#080ea8 62.0px,#060b86 70.5px,#060b7f 74.5px,#060b86 78.5px,#080fa7 87.5px,#0a149d 89.0px,#153c52 91.5px,#03053b 92.0px,#03053b 94.5px,#fff51e 95.0px,#fff51e 96.0px,#f5561a 96.5px,#f55f1a 99.0px,#f9991c 104.0px,#fdd01d 110.0px,#fee31e 115.0px,#fede1d 117.5px,#fccd1d 120.5px,#f9941c 126.5px,#f5601a 131.0px,#f22e19 141.5px,#cf3419 153.0px,#884218 153.5px,#884218 188.0px)"></div>
<div style="left:78px;top:16.10px;height:188.40px;background:linear-gradient(#884218 0.0px,#884218 39.0px,#48501a 39.5px,#41521a 43.0px,#1e5a1b 51.5px,#1c5427 55.5px,#19483c 57.5px,#112c70 59.0px,#0a1699 60.5px,#0911a2 61.0px,#080ea8 62.5px,#060b88 71.0px,#060b83 74.5px,#070b89 78.5px,#080ea8 87.0px,#0912a1 88.5px,#112d6e 90.5px,#17404a 91.5px,#03053b 92.0px,#03053b 94.5px,#fff51e 95.0px,#fff51e 96.0px,#f5541a 96.5px,#f5611a 99.5px,#f9991c 104.5px,#fcc71d 110.0px,#fdd91d 115.0px,#fdd41d 117.5px,#fcc31d 120.5px,#f9921c 126.0px,#f55f1a 130.5px,#f22e19 141.0px,#ce3419 152.5px,#884218 153.0px,#884218 188.0px)"></div>
<div style="left:79px;top:16.10px;height:188.40px;background:linear-gradient(#884218 0.0px,#884218 39.5px,#49501a 40.0px,#42521a 43.5px,#1e5a1b 52.0px,#1c5427 56.0px,#19483d 58.0px,#112c70 59.5px,#0a1699 61.0px,#0911a2 61.5px,#080ea8 63.0px,#070c8a 71.5px,#060b86 75.0px,#080fa6 87.0px,#0a149d 88.5px,#102975 90.0px,#184543 91.5px,#03053b 92.0px,#03053b 94.5px,#fff51e 95.0px,#fff51e 96.0px,#f4531a 96.5px,#f55e1a 99.5px,#f9981c 105.0px,#fbbf1d 110.0px,#fdd01d 115.0px,#fcc61d 118.5px,#faaa1c 122.5px,#f55f1a 130.0px,#f22e19 140.5px,#cd3419 152.0px,#884218 152.5px,#884218 188.0px)"></div>
<div style="left:80px;top:16.10px;height:188.40px;background:linear-gradient(#884218 0.0px,#884218 40.0px,#4a501a 40.5px,#43521a 44.0px,#1e5a1b 52.5px,#1c5327 56.5px,#19483d 58.5px,#112c71 60.0px,#0a1698 61.5px,#0911a2 62.0px,#080ea8 63.5px,#070c93 69.5px,#070b89 75.0px,#080ea7 86.5px,#0912a1 88.0px,#112d6f 90.0px,#19483d 91.5px,#03053b 92.0px,#03053b 94.5px,#fff51e 95.0px,#fff51e 96.0px,#f4521a 96.5px,#f55f1a 100.0px,#f88e1b 104.5px,#faad1c 108.5px,#fcc11d 112.0px,#fcc61d 115.0px,#fbbe1d 118.0px,#faa61c 122.0px,#f55e1a 129.5px,#f22e19 140.0px,#d53319 147.5px,#cc3519 152.0px,#884218 152.5px,#884218 188.0px)"></div>
<div style="left:81px;top:16.10px;height:188.40px;background:linear-gradient(#884218 0.0px,#884218 40.0px,#4b501a 40.5px,#42521a 44.5px,#1e5a1b 52.5px,#1c5229 57.0px,#18473f 59.0px,#112b71 60.5px,#0b1798 62.0px,#0911a2 62.5px,#080ea8 64.0px,#070c94 70.0px,#070c8d 75.0px,#080fa6 86.5px,#0a149d 88.0px,#19483c 91.5px,#03053b 92.0px,#03053b 94.5px,#fff51e 95.0px,#fff51e 96.0px,#f4521a 96.5px,#f5601a 100.5px,#f8891b 104.5px,#faa81c 108.5px,#fbbd1d 114.5px,#faac1c 120.0px,#f88f1b 124.0px,#f5611a 128.5px,#f22d19 140.0px,#d53319 147.0px,#cc3519 151.5px,#884218 152.0px,#884218 188.0px)"></div>
<div style="left:82px;top:16.10px;height:188.40px;background:linear-gradient(#884218 0.0px,#884218 40.5px,#4a501a 41.0px,#40521a 45.0px,#1e5a1b 52.0px,#1b502e 57.5px,#184543 59.5px,#102a73 61.0px,#0911a2 63.0px,#080ea8 64.5px,#070c96 70.0px,#070c90 75.0px,#070c95 80.0px,#080fa7 86.0px,#0912a1 87.5px,#112c71 89.5px,#184641 91.0px,#19483c 91.5px,#03053b 92.0px,#03053b 94.5px,#fff51e 95.0px,#fff51e 96.0px,#f4531a 96.5px,#f6631a 101.0px,#f88a1b 105.0px,#faa61c 109.0px,#fbb41c 114.5px,#faa51c 120.0px,#f88d1b 123.5px,#f5621a 128.0px,#f22d19 140.0px,#d73219 146.5px,#cd3419 151.0px,#884218 151.5px,#884218 188.0px)"></div>
<div style="left:83px;top:16.10px;height:188.40px;background:linear-gradient(#884218 0.0px,#884218 41.0px,#48501a 41.5px,#3f521a 45.0px,#1e5a1c 51.5px,#1a4c34 58.0px,#174149 60.0px,#102976 61.5px,#0911a3 63.5px,#080ea8 65.0px,#070c92 75.0px,#080fa6 86.0px,#0a159c 87.5px,#0f2779 89.0px,#16404c 90.5px,#19483d 91.5px,#03053b 92.0px,#03053b 94.5px,#fff51e 95.0px,#fff51e 96.0px,#f5551a 96.5px,#f6671a 101.5px,#faa11c 109.0px,#faae1c 114.5px,#faa21c 119.5px,#f6661a 127.5px,#f12d19 140.5px,#da3219 146.0px,#ce3419 151.0px,#884218 151.5px,#884218 188.0px)"></div>
<div style="left:84px;top:16.10px;height:188.40px;background:linear-gradient(#884218 0.0px,#884218 41.5px,#47511a 42.0px,#3d531a 45.5px,#1e5a1c 51.0px,#19493b 58.5px,#163f4e 60.5px,#102976 62.0px,#0912a0 64.0px,#080ea7 66.0px,#070d97 74.5px,#080ea8 84.5px,#0912a0 86.5px,#0a139e 87.0px,#0e247e 88.5px,#174248 90.5px,#19473e 91.5px,#03053b 92.0px,#03053b 94.5px,#fff51e 95.0px,#fff51e 96.0px,#f5581a 96.5px,#f66c1b 102.0px,#f99d1c 109.0px,#faa91c 114.5px,#f99d1c 119.5px,#f66b1b 126.5px,#f12d19 141.0px,#d13419 150.5px,#884218 151.0px,#884218 188.0px)"></div>
<div style="left:85px;top:16.10px;height:188.40px;background:linear-gradient(#884218 0.0px,#884218 42.0px,#44511a 42.5px,#39541a 46.0px,#205a1b 50.0px,#184444 59.0px,#153b55 61.0px,#0a139e 64.5px,#080ea8 67.0px,#070d9b 74.0px,#080ea7 83.5px,#0a139e 86.5px,#0f267b 88.5px,#153b55 90.0px,#184541 91.5px,#03053b 92.0px,#03053b 94.5px,#fff51e 95.0px,#fff51e 96.0px,#f55d1a 96.5px,#f7731b 102.5px,#f99a1c 109.0px,#faa51c 114.5px,#f9991c 119.5px,#f6701b 126.0px,#f55c1a 132.0px,#f22d19 141.5px,#d43319 150.0px,#884218 150.5px,#884218 188.0px)"></div>
<div style="left:86px;top:16.10px;height:188.40px;background:linear-gradient(#884218 0.0px,#884218 42.0px,#44511a 42.5px,#35551a 46.5px,#1e5a1b 50.0px,#16404c 59.5px,#14375c 61.5px,#0e2284 63.5px,#0912a0 65.5px,#080ea8 69.0px,#080da1 75.0px,#080ea8 81.5px,#0a149c 86.0px,#102976 88.5px,#153c53 90.0px,#184443 91.5px,#03053b 92.0px,#03053b 94.5px,#fff51e 95.0px,#fff51e 96.0px,#f6681a 96.5px,#f9a01c 109.0px,#faaa1c 115.0px,#faa21c 118.5px,#f77e1b 125.0px,#f6671a 132.0px,#f22d19 143.0px,#db3219 149.5px,#884218 150.0px,#884218 188.0px)"></div>
<div style="left:87px;top:16.10px;height:188.40px;background:linear-gradient(#884218 0.0px,#884218 42.5px,#45511a 43.0px,#36551a 47.0px,#1e5a1b 50.5px,#14375c 62.0px,#0b1896 66.0px,#0911a2 74.0px,#0c1a91 86.0px,#163d50 90.0px,#184541 91.5px,#03053b 92.0px,#03053b 94.5px,#fff51e 95.0px,#fff51e 96.0px,#f66d1b 96.5px,#f99e1c 109.0px,#faa61c 115.5px,#f66d1b 131.5px,#f12d19 143.5px,#de3119 149.0px,#884218 149.5px,#884218 188.0px)"></div>
<div style="left:88px;top:16.10px;height:188.40px;background:linear-gradient(#884218 0.0px,#884218 43.0px,#47511a 43.5px,#37541a 47.5px,#1e5a1c 51.0px,#14375b 62.5px,#0d1e8b 66.5px,#0b1895 74.0px,#0d1f88 85.5px,#18473f 91.5px,#03053b 92.0px,#03053b 94.5px,#fff51e 95.0px,#fff51e 96.0px,#f66b1b 96.5px,#f9961c 109.0px,#f99d1c 115.5px,#f66d1b 131.0px,#f12d19 143.0px,#dc3119 149.0px,#884218 149.5px,#884218 188.0px)"></div>
<div style="left:89px;top:16.10px;height:188.40px;background:linear-gradient(#884218 0.0px,#884218 43.5px,#48501a 44.0px,#37541a 48.0px,#205a1b 51.0px,#174248 58.0px,#133560 63.5px,#0e2184 67.5px,#0d1e8b 74.0px,#0e2381 85.0px,#18473f 91.5px,#03053b 92.0px,#03053b 94.5px,#fff51e 95.0px,#fff51e 96.0px,#f6671a 96.5px,#f88b1b 108.5px,#f9921c 116.0px,#f6671a 131.0px,#f22d19 142.0px,#d93219 148.5px,#884218 149.0px,#884218 188.0px)"></div>
<div style="left:90px;top:16.10px;height:188.40px;background:linear-gradient(#884218 0.0px,#884218 44.0px,#4a501a 44.5px,#38541a 48.5px,#1e591d 52.0px,#174149 58.5px,#13365f 64.0px,#0f277b 68.0px,#0e2380 74.5px,#0f2879 84.5px,#18473e 91.5px,#03053b 92.0px,#03053b 94.5px,#fff51e 95.0px,#fff51e 96.0px,#f66b1b 96.5px,#f7811b 102.5px,#f9921c 116.0px,#f66d1b 130.5px,#f22e19 142.0px,#dc3119 148.0px,#884218 148.5px,#884218 188.0px)"></div>
<div style="left:91px;top:16.10px;height:188.40px;background:linear-gradient(#884218 0.0px,#884218 44.5px,#4c501a 45.0px,#36541a 49.5px,#1e591c 52.5px,#16404c 59.5px,#112c70 68.5px,#102a75 74.5px,#112d6e 84.5px,#19483d 91.5px,#03053b 92.0px,#03053b 94.5px,#fff51e 95.0px,#fff51e 96.0px,#f5621a 96.5px,#f7771b 102.5px,#f8831b 116.0px,#f6641a 130.0px,#f22d19 140.5px,#d73219 147.5px,#884218 148.0px,#884218 188.0px)"></div>
<div style="left:92px;top:16.10px;height:188.40px;background:linear-gradient(#884218 0.0px,#884218 45.0px,#4c501a 45.5px,#35551a 50.0px,#1f5a1b 52.5px,#153c52 60.5px,#112e6c 69.5px,#112c70 74.5px,#123069 84.5px,#18473f 91.5px,#03053b 92.0px,#03053b 94.5px,#fff51e 95.0px,#fff51e 96.0px,#f5551a 96.5px,#f6691a 102.5px,#f7731b 115.5px,#f5591a 129.5px,#f22d19 138.5px,#d03419 147.0px,#884218 147.5px,#884218 188.0px)"></div>
<div style="left:93px;top:16.10px;height:188.40px;background:linear-gradient(#884218 0.0px,#884218 45.5px,#4c501a 46.0px,#35551a 50.5px,#1e5a1c 53.0px,#163d51 60.0px,#12306a 70.5px,#123265 84.5px,#163d51 89.5px,#184641 91.5px,#03053b 92.0px,#03053b 94.5px,#fff51e 95.0px,#fff51e 96.0px,#f5561a 96.5px,#f6691b 102.5px,#f6721b 115.5px,#f5591a 129.5px,#f22e19 138.0px,#d03419 146.5px,#884218 147.0px,#884218 188.0px)"></div>
<div style="left:94px;top:16.10px;height:188.40px;background:linear-gradient(#884218 0.0px,#884218 46.0px,#4d4f1a 46.5px,#38541a 50.5px,#1e591c 53.5px,#163d51 60.0px,#133560 64.0px,#123266 69.0px,#133363 85.0px,#153c53 89.5px,#184542 91.5px,#03053b 92.0px,#03053b 94.5px,#fff51e 95.0px,#fff51e 96.0px,#f6671a 96.5px,#f77d1b 102.5px,#f8851b 115.5px,#f6691b 129.5px,#f12d19 140.0px,#d83219 146.0px,#884218 146.5px,#884218 188.0px)"></div>
<div style="left:95px;top:16.10px;height:188.40px;background:linear-gradient(#884218 0.0px,#884218 46.5px,#514f1a 47.0px,#39541a 51.5px,#1e591d 54.5px,#163f4d 60.5px,#14365d 66.0px,#14375c 85.0px,#163f4d 89.5px,#19473d 91.5px,#03053b 92.0px,#03053b 94.5px,#fff51e 95.0px,#fff51e 96.0px,#f7781b 96.5px,#f8901b 102.5px,#f99a1c 115.0px,#f7791b 129.5px,#f22f19 141.0px,#e03119 145.5px,#884218 146.0px,#884218 188.0px)"></div>
<div style="left:96px;top:16.10px;height:188.40px;background:linear-gradient(#884218 0.0px,#884218 47.0px,#544e19 47.5px,#3e531a 52.0px,#1e591d 55.5px,#184444 60.5px,#153a57 66.5px,#153b55 85.0px,#174248 89.5px,#194a38 91.5px,#03053b 92.0px,#03053b 94.5px,#fff51e 95.0px,#fff51e 96.0px,#f7791b 96.5px,#f8911b 102.5px,#f99b1c 115.0px,#f77a1b 129.0px,#f22e19 140.5px,#df3119 145.0px,#884218 145.5px,#884218 188.0px)"></div>
<div style="left:97px;top:16.10px;height:188.40px;background:linear-gradient(#884218 0.0px,#884218 47.5px,#584d19 48.0px,#42521a 52.5px,#1e591d 56.5px,#18473f 61.0px,#163e50 66.5px,#163e4f 85.0px,#184640 90.0px,#1a4d34 91.5px,#03053b 92.0px,#03053b 94.5px,#fff51e 95.0px,#fff51e 96.0px,#f6711b 96.5px,#f8871b 102.0px,#f8901b 115.0px,#f7721b 128.5px,#f22f19 139.0px,#da3219 144.5px,#884218 145.0px,#884218 188.0px)"></div>
<div style="left:98px;top:16.10px;height:188.40px;background:linear-gradient(#884218 0.0px,#884218 48.5px,#594d19 49.0px,#46511a 53.0px,#1e591c 57.5px,#194a39 61.5px,#174149 67.0px,#174248 85.0px,#19493a 90.0px,#1b4f2f 91.5px,#03053b 92.0px,#03053b 94.5px,#fff51e 95.0px,#fff51e 96.0px,#f5601a 96.5px,#f7741b 102.0px,#f77d1b 114.5px,#f5621a 128.0px,#f22d19 137.0px,#d23319 144.0px,#884218 144.5px,#884218 188.0px)"></div>
<div style="left:99px;top:16.10px;height:188.40px;background:linear-gradient(#884218 0.0px,#884218 49.0px,#5f4b19 49.5px,#4b501a 54.0px,#1f5a1b 59.0px,#1b502e 62.0px,#194a39 65.5px,#18473e 76.0px,#19493a 85.5px,#1d5524 91.5px,#03053b 92.0px,#03053b 94.5px,#fff51e 95.0px,#fff51e 96.0px,#f4501a 96.5px,#f5621a 102.0px,#f6691a 114.5px,#f4531a 127.0px,#f12d19 134.5px,#ca3519 143.5px,#884218 144.0px,#884218 188.0px)"></div>
<div style="left:100px;top:16.10px;height:188.40px;background:linear-gradient(#884218 0.0px,#884218 49.5px,#624b19 50.0px,#4f4f1a 54.5px,#1e591c 60.5px,#1a4e32 66.0px,#1a4b37 76.5px,#1a4d33 85.5px,#1d581f 91.5px,#03053b 92.0px,#03053b 94.5px,#fff51e 95.0px,#fff51e 96.0px,#f6681a 96.5px,#f77d1b 102.0px,#f8861b 114.0px,#f66a1b 127.0px,#f22e19 136.5px,#d73219 142.5px,#884218 143.0px,#884218 188.0px)"></div>
<div style="left:101px;top:16.10px;height:188.40px;background:linear-gradient(#884218 0.0px,#884218 50.0px,#674919 50.5px,#584d19 55.0px,#1f5a1b 62.5px,#1c5427 68.0px,#1c5229 77.0px,#1c5426 85.5px,#1e5a1b 90.5px,#27581b 91.5px,#03053b 92.0px,#03053b 94.5px,#fff51e 95.0px,#fff51e 96.0px,#f6711b 96.5px,#f8871b 102.0px,#f8901b 114.0px,#f6711b 127.0px,#f22e19 137.0px,#db3219 142.0px,#884218 142.5px,#884218 188.0px)"></div>
<div style="left:102px;top:16.10px;height:188.40px;background:linear-gradient(#884218 0.0px,#884218 51.0px,#6c4819 51.5px,#604b19 55.5px,#30561a 63.0px,#24591b 66.5px,#1e5a1b 78.5px,#22591b 86.0px,#2d571b 90.0px,#37541a 91.5px,#03053b 92.0px,#03053b 94.5px,#fff51e 95.0px,#fff51e 96.0px,#f7791b 96.5px,#f8901b 101.5px,#f99b1c 113.5px,#f77a1b 126.5px,#f12d19 137.5px,#de3119 141.5px,#884218 142.0px,#884218 188.0px)"></div>
<div style="left:103px;top:16.10px;height:188.40px;background:linear-gradient(#884218 0.0px,#884218 51.5px,#6f4819 52.0px,#654a19 56.0px,#39541a 63.5px,#2e561b 67.0px,#28581b 77.5px,#2c571b 86.0px,#36551a 90.0px,#3f531a 91.5px,#03053b 92.0px,#03053b 94.5px,#fff51e 95.0px,#fff51e 96.0px,#f8821b 96.5px,#f99a1c 101.5px,#faa41c 113.5px,#f8831b 126.0px,#f22e19 137.5px,#e23019 141.0px,#884218 141.5px,#884218 188.0px)"></div>
<div style="left:104px;top:16.10px;height:188.40px;background:linear-gradient(#884218 0.0px,#884218 52.0px,#724719 52.5px,#694919 56.5px,#42521a 64.0px,#38541a 67.5px,#33551a 78.0px,#3f531a 90.0px,#47511a 91.5px,#03053b 92.0px,#03053b 94.5px,#fff51e 95.0px,#fff51e 96.0px,#f8821b 96.5px,#f99a1c 101.5px,#faa51c 113.0px,#f8831b 125.5px,#f22d19 137.0px,#e33019 140.0px,#884218 140.5px,#884218 188.0px)"></div>
<div style="left:105px;top:16.10px;height:188.40px;background:linear-gradient(#884218 0.0px,#884218 53.0px,#714719 53.5px,#664a19 57.5px,#3e531a 64.5px,#33551a 68.0px,#2e561b 78.0px,#3b541a 90.0px,#43521a 91.5px,#03053b 92.0px,#03053b 94.5px,#fff51e 95.0px,#fff51e 96.0px,#f6721b 96.5px,#f8881b 101.5px,#f8911b 113.0px,#f7731b 125.0px,#f22f19 134.5px,#da3219 139.5px,#884218 140.0px,#884218 188.0px)"></div>
<div style="left:106px;top:16.10px;height:188.40px;background:linear-gradient(#884218 0.0px,#884218 53.5px,#6d4819 54.0px,#614b19 58.0px,#2e561b 65.5px,#24591b 68.5px,#1f5a1b 78.5px,#23591b 86.5px,#2e561b 90.5px,#36551a 91.5px,#03053b 92.0px,#03053b 94.5px,#fff51e 95.0px,#fff51e 96.0px,#f5591a 96.5px,#f66c1b 101.5px,#f7741b 112.5px,#f55c1a 124.0px,#f22e19 131.5px,#cf3419 138.5px,#884218 139.0px,#884218 188.0px)"></div>
<div style="left:107px;top:16.10px;height:188.40px;background:linear-gradient(#884218 0.0px,#884218 54.5px,#6a4919 55.0px,#5b4c19 59.0px,#1f5a1b 67.5px,#1d5622 78.5px,#1f5a1b 88.5px,#2d571b 91.5px,#03053b 92.0px,#03053b 94.5px,#fff51e 95.0px,#fff51e 96.0px,#f5591a 96.5px,#f66a1b 101.0px,#f7731b 112.0px,#f55b1a 123.5px,#f12d19 131.0px,#ce3419 138.0px,#884218 138.5px,#884218 188.0px)"></div>
<div style="left:108px;top:16.10px;height:188.40px;background:linear-gradient(#884218 0.0px,#884218 55.0px,#684919 55.5px,#584d19 59.5px,#1e5a1c 66.5px,#1c5426 71.0px,#1c5329 79.0px,#1c5426 86.5px,#1f5a1b 91.0px,#24591b 91.5px,#03053b 92.0px,#03053b 94.5px,#fff51e 95.0px,#fff51e 96.0px,#f5591a 96.5px,#f66b1b 101.0px,#f7721b 112.0px,#f55b1a 123.0px,#f22f19 130.0px,#cf3419 137.0px,#884218 137.5px,#884218 188.0px)"></div>
<div style="left:109px;top:16.10px;height:188.40px;background:linear-gradient(#884218 0.0px,#884218 56.0px,#674919 56.5px,#564d19 60.5px,#1e5a1c 67.0px,#1c5426 71.5px,#1c5229 79.0px,#1c5425 87.0px,#1e5a1b 91.0px,#23591b 91.5px,#03053b 92.0px,#03053b 94.5px,#fff51e 95.0px,#fff51e 96.0px,#f5591a 96.5px,#f66b1b 101.0px,#f7731b 111.5px,#f55b1a 122.5px,#f22e19 129.5px,#ce3419 136.5px,#884218 137.0px,#884218 188.0px)"></div>
<div style="left:110px;top:16.10px;height:188.40px;background:linear-gradient(#884218 0.0px,#884218 57.0px,#674a19 57.5px,#544e19 61.5px,#1e5a1b 67.5px,#1c5426 72.0px,#1c5229 79.5px,#1c5426 87.0px,#1e5a1b 91.0px,#23591b 91.5px,#03053b 92.0px,#03053b 94.5px,#fff51e 95.0px,#fff51e 96.0px,#f5611a 96.5px,#f7741b 101.0px,#f77d1b 111.0px,#f5631a 122.0px,#f22e19 129.5px,#d23319 135.5px,#884218 136.0px,#884218 188.0px)"></div>
<div style="left:111px;top:16.10px;height:188.40px;background:linear-gradient(#884218 0.0px,#884218 57.5px,#6d4819 58.0px,#614b19 61.5px,#30561a 68.0px,#24591b 71.0px,#1e5a1b 81.0px,#21591b 87.0px,#2e561b 91.0px,#32551a 91.5px,#03053b 92.0px,#03053b 94.5px,#fff51e 95.0px,#fff51e 96.0px,#f6721b 96.5px,#f8861b 100.5px,#f8901b 111.0px,#f6711b 122.0px,#f12d19 130.5px,#db3219 134.5px,#884218 135.0px,#884218 188.0px)"></div>
<div style="left:112px;top:16.10px;height:188.40px;background:linear-gradient(#884218 0.0px,#884218 58.5px,#724719 59.0px,#684919 62.5px,#40521a 69.0px,#38541a 71.5px,#36551a 87.0px,#43521a 91.5px,#03053b 92.0px,#03053b 94.5px,#fff51e 95.0px,#fff51e 96.0px,#f7731b 96.5px,#f8871b 100.5px,#f8911b 110.5px,#f6711b 121.5px,#f22e19 129.5px,#db3119 133.5px,#884218 134.0px,#884218 188.0px)"></div>
<div style="left:113px;top:16.10px;height:188.40px;background:linear-gradient(#884218 0.0px,#884218 59.5px,#7d4518 60.0px,#5e4b19 72.5px,#5e4c19 87.5px,#644a19 91.5px,#03053b 92.0px,#03053b 94.5px,#fff51e 95.0px,#fff51e 96.0px,#f4521a 96.5px,#f5621a 100.5px,#f66a1b 110.0px,#f5541a 120.0px,#f12d19 126.0px,#cb3519 132.5px,#884218 133.0px,#884218 188.0px)"></div>
<div style="left:114px;top:16.10px;height:188.40px;background:linear-gradient(#884218 0.0px,#884218 60.5px,#734719 73.0px,#764619 91.5px,#03053b 92.0px,#03053b 94.5px,#fff51e 95.0px,#fff51e 96.0px,#ca3519 96.5px,#d53319 109.5px,#ca3519 119.5px,#a73c18 131.5px,#884218 132.0px,#884218 188.0px)"></div>
<div style="left:115px;top:16.10px;height:188.40px;background:linear-gradient(#884218 0.0px,#874218 91.5px,#03053b 92.0px,#03053b 94.5px,#fff51e 95.0px,#fff51e 96.0px,#bf3719 96.5px,#c83519 109.0px,#bf3719 118.5px,#a13d18 130.5px,#884218 131.0px,#884218 188.0px)"></div>
<div style="left:116px;top:16.10px;height:188.40px;background:linear-gradient(#884218 0.0px,#884218 62.5px,#9b3e18 74.0px,#993f18 91.5px,#03053b 92.0px,#03053b 94.5px,#fff51e 95.0px,#fff51e 96.0px,#ad3b18 96.5px,#b33918 108.5px,#ad3b18 118.0px,#993f18 129.5px,#884218 130.0px,#884218 188.0px)"></div>
<div style="left:117px;top:16.10px;height:188.40px;background:linear-gradient(#884218 0.0px,#884218 63.5px,#904018 64.0px,#a63c18 75.0px,#a33d18 91.5px,#03053b 92.0px,#03053b 94.5px,#fff51e 95.0px,#fff51e 96.0px,#a43d18 96.5px,#a43c18 117.0px,#954018 128.5px,#884218 129.0px,#884218 188.0px)"></div>
<div style="left:118px;top:16.10px;height:188.40px;background:linear-gradient(#884218 0.0px,#884218 65.0px,#904018 65.5px,#a63c18 75.5px,#a33d18 91.5px,#03053b 92.0px,#03053b 94.5px,#fff51e 95.0px,#fff51e 96.0px,#a33d18 96.5px,#a33d18 116.5px,#944018 127.5px,#884218 128.0px,#884218 188.0px)"></div>
<div style="left:119px;top:16.10px;height:188.40px;background:linear-gradient(#884218 0.0px,#884218 66.0px,#9c3e18 76.5px,#9b3e18 91.5px,#03053b 92.0px,#03053b 94.5px,#fff51e 95.0px,#fff51e 96.0px,#a33d18 96.5px,#a33d18 115.5px,#944018 126.0px,#884218 126.5px,#884218 188.0px)"></div>
<div style="left:120px;top:16.10px;height:188.40px;background:linear-gradient(#884218 0.0px,#894218 91.5px,#03053b 92.0px,#03053b 94.5px,#fff51e 95.0px,#fff51e 96.0px,#be3719 96.5px,#c63619 106.5px,#be3719 114.5px,#a13d18 124.5px,#884218 125.0px,#884218 188.0px)"></div>
<div style="left:121px;top:16.10px;height:188.40px;background:linear-gradient(#884218 0.0px,#884218 69.0px,#754619 78.0px,#764619 91.5px,#03053b 92.0px,#03053b 94.5px,#fff51e 95.0px,#fff51e 96.0px,#e33019 96.5px,#eb2e19 99.0px,#f02d19 106.0px,#e13019 114.0px,#b13a18 123.0px,#884218 123.5px,#884218 188.0px)"></div>
<div style="left:122px;top:16.10px;height:188.40px;background:linear-gradient(#884218 0.0px,#884218 70.5px,#7d4518 71.0px,#614b19 79.0px,#634a19 91.5px,#03053b 92.0px,#03053b 94.5px,#fff51e 95.0px,#fff51e 96.0px,#ed2e19 96.5px,#f33719 105.5px,#ec2e19 112.5px,#b63918 121.5px,#884218 122.0px,#884218 188.0px)"></div>
<div style="left:123px;top:16.10px;height:188.40px;background:linear-gradient(#884218 0.0px,#884218 72.0px,#754619 72.5px,#44511a 80.0px,#3f531a 85.5px,#47511a 91.5px,#03053b 92.0px,#03053b 94.5px,#fff51e 95.0px,#fff51e 96.0px,#ee2e19 96.5px,#f33719 104.5px,#ec2e19 111.5px,#b53918 120.0px,#884218 120.5px,#884218 188.0px)"></div>
<div style="left:124px;top:16.10px;height:188.40px;background:linear-gradient(#884218 0.0px,#884218 73.5px,#6d4819 74.0px,#614b19 76.0px,#33551a 79.5px,#27581b 81.0px,#1f5a1b 86.5px,#29571b 91.5px,#03053b 92.0px,#03053b 94.5px,#fff51e 95.0px,#fff51e 96.0px,#ef2e19 96.5px,#f33719 104.0px,#eb2e19 110.5px,#b63918 118.0px,#884218 118.5px,#884218 188.0px)"></div>
<div style="left:125px;top:16.10px;height:188.40px;background:linear-gradient(#884218 0.0px,#884218 75.5px,#6d4819 76.0px,#5e4c19 78.0px,#31561a 81.0px,#25591b 82.5px,#1e5a1b 87.0px,#26581b 91.5px,#03053b 92.0px,#03053b 94.5px,#fff51e 95.0px,#fff51e 96.0px,#f02d19 96.5px,#f33719 103.0px,#ec2e19 109.0px,#b63918 116.0px,#884218 116.5px,#884218 188.0px)"></div>
<div style="left:126px;top:16.10px;height:188.40px;background:linear-gradient(#884218 0.0px,#884218 78.0px,#6b4919 78.5px,#5d4c19 80.0px,#27581b 83.5px,#1e5a1b 88.0px,#24591b 91.5px,#03053b 92.0px,#03053b 94.5px,#fff51e 95.0px,#fff51e 96.0px,#e82f19 96.5px,#f22d19 102.5px,#e33019 107.5px,#b23a18 113.5px,#884218 114.0px,#884218 188.0px)"></div>
<div style="left:127px;top:16.10px;height:188.40px;background:linear-gradient(#884218 0.0px,#884218 80.5px,#6b4919 81.0px,#614b19 82.0px,#2a571b 85.0px,#21591b 86.5px,#22591b 91.5px,#03053b 92.0px,#03053b 94.5px,#fff51e 95.0px,#fff51e 96.0px,#e92f19 96.5px,#f22d19 101.0px,#e33019 105.5px,#b13a18 111.0px,#884218 111.5px,#884218 188.0px)"></div>
<div style="left:128px;top:16.10px;height:188.40px;background:linear-gradient(#884218 0.0px,#884218 83.5px,#6e4819 84.0px,#634a19 85.0px,#2f561b 87.5px,#2a571b 91.5px,#03053b 92.0px,#03053b 94.5px,#fff51e 95.0px,#fff51e 96.0px,#e33019 96.5px,#e72f19 100.0px,#d83219 103.5px,#ad3b18 107.5px,#884218 108.0px,#884218 188.0px)"></div>
<div style="left:129px;top:16.10px;height:188.40px;background:linear-gradient(#884218 0.0px,#884218 88.5px,#6c4819 89.0px,#3b531a 90.5px,#34551a 91.5px,#03053b 92.0px,#03053b 94.5px,#fff51e 95.0px,#fff51e 96.0px,#db3219 96.5px,#db3219 98.0px,#cb3519 100.0px,#aa3b18 102.0px,#884218 102.5px,#884218 188.0px)"></div>
</div></div>
<div class="bg" style="left:33.10px;top:251.40px;width:111.60px;height:189.10px;overflow:hidden"><div class="hm" style="left:-33.10px;top:-251.40px;width:520px;height:468px;filter:blur(0.8px)">
<div style="left:33px;top:251.40px;height:189.10px;background:linear-gradient(#884218 0.0px,#884218 32.0px,#32561a 32.5px,#1e5a1b 38.5px,#1c5329 45.0px,#19473e 47.0px,#0a169a 49.5px,#080ea8 51.0px,#070c8f 55.0px,#050866 59.0px,#00010a 66.5px,#000001 73.0px,#000108 78.0px,#070c94 90.0px,#080ea4 90.5px,#0a149d 91.0px,#174445 94.5px,#f22f19 95.0px,#f7801b 97.5px,#fff41e 100.0px,#fff638 101.0px,#fff97b 104.5px,#fffdc8 108.0px,#fffeef 111.0px,#ffffff 117.5px,#fffef1 124.0px,#fffdc9 127.0px,#fff523 135.0px,#ffee1e 135.5px,#fbb51c 138.0px,#f5621a 143.0px,#f22e19 154.5px,#e23019 159.5px,#884218 160.0px,#884218 189.0px)"></div>
<div style="left:34px;top:251.40px;height:189.10px;background:linear-gradient(#884218 0.0px,#884218 32.0px,#32551a 32.5px,#1e5a1b 38.5px,#1c5329 45.0px,#19473e 47.0px,#0a1699 49.5px,#080ea8 51.0px,#070c8f 55.0px,#050866 59.0px,#00010a 66.5px,#000003 74.0px,#000108 78.0px,#070c94 90.0px,#080ea4 90.5px,#0a149d 91.0px,#174445 94.5px,#f22f19 95.0px,#f7801b 97.5px,#fff41e 100.0px,#fffdc7 108.0px,#fffeef 111.0px,#fffffe 117.5px,#fffef0 124.0px,#fffdc9 127.0px,#fff523 135.0px,#ffee1e 135.5px,#fbb51c 138.0px,#f5621a 143.0px,#f22e19 154.5px,#e23019 159.5px,#884218 160.0px,#884218 189.0px)"></div>
<div style="left:35px;top:251.40px;height:189.10px;background:linear-gradient(#884218 0.0px,#884218 32.0px,#32551a 32.5px,#1e5a1b 38.5px,#1c5329 45.0px,#19473e 47.0px,#0a1698 49.5px,#080ea8 51.0px,#070c8a 55.5px,#00010a 66.5px,#000004 75.0px,#000109 78.0px,#070c94 90.0px,#080ea4 90.5px,#0a149d 91.0px,#184445 94.5px,#f22e19 95.0px,#f7801b 97.5px,#fff31e 100.0px,#fffdc7 108.0px,#fffeee 111.0px,#fffffd 117.5px,#fffef0 124.0px,#fffdc8 127.0px,#fff522 135.0px,#ffed1e 135.5px,#fbb41c 138.0px,#f5611a 143.0px,#f22e19 154.5px,#e23019 159.5px,#884218 160.0px,#884218 189.0px)"></div>
<div style="left:36px;top:251.40px;height:189.10px;background:linear-gradient(#884218 0.0px,#884218 32.0px,#32551a 32.5px,#1e5a1b 38.5px,#1c5329 45.0px,#19473d 47.0px,#0b1797 49.5px,#0911a2 50.0px,#080ea7 51.0px,#070c8a 55.5px,#000108 67.0px,#000006 76.0px,#000109 78.0px,#070c94 90.0px,#080ea4 90.5px,#0a149d 91.0px,#184445 94.5px,#f22e19 95.0px,#f77f1b 97.5px,#fff31e 100.0px,#fffcc6 108.0px,#fffef4 111.5px,#fffffc 117.5px,#fffeef 124.0px,#fffdc8 127.0px,#fff521 135.0px,#feed1e 135.5px,#fbb41c 138.0px,#f5611a 143.0px,#f22e19 154.5px,#e23019 159.5px,#884218 160.0px,#884218 189.0px)"></div>
<div style="left:37px;top:251.40px;height:189.10px;background:linear-gradient(#884218 0.0px,#884218 32.0px,#32551a 32.5px,#1e5a1b 38.5px,#1c5328 45.0px,#19483d 47.0px,#0b1896 49.5px,#0911a2 50.0px,#080ea7 51.0px,#070c8b 55.5px,#000108 67.0px,#000003 72.0px,#000107 77.0px,#01021b 79.5px,#050865 85.5px,#070c94 90.0px,#080ea5 90.5px,#0a149d 91.0px,#184444 94.5px,#f22e19 95.0px,#f77f1b 97.5px,#fff21e 100.0px,#fffcc5 108.0px,#fffef2 111.5px,#fffffc 117.5px,#fffef4 123.5px,#fffcc7 127.0px,#fff520 135.0px,#feec1e 135.5px,#fbb31c 138.0px,#f5601a 143.0px,#f22e19 154.5px,#e23019 159.5px,#884218 160.0px,#884218 189.0px)"></div>
<div style="left:38px;top:251.40px;height:189.10px;background:linear-gradient(#884218 0.0px,#884218 32.0px,#32551a 32.5px,#1e5a1b 38.5px,#1c5328 45.0px,#19483c 47.0px,#0912a1 50.0px,#080fa7 51.0px,#070c8c 55.5px,#000109 67.0px,#000003 72.0px,#000108 77.5px,#070c94 90.0px,#080ea5 90.5px,#0a149d 91.0px,#184444 94.5px,#f22e19 95.0px,#f77e1b 97.5px,#fff11e 100.0px,#fffcc3 108.0px,#fffede 110.0px,#fffff4 112.0px,#fffffb 117.5px,#fffff4 123.0px,#fffee5 124.5px,#fffcc5 127.0px,#fff51f 135.0px,#fbb21c 138.0px,#f5601a 143.0px,#f33619 152.0px,#f12d19 155.0px,#e23019 159.5px,#884218 160.0px,#884218 189.0px)"></div>
<div style="left:39px;top:251.40px;height:189.10px;background:linear-gradient(#884218 0.0px,#884218 32.0px,#33551a 32.5px,#1e5a1b 38.5px,#1c5328 45.0px,#19493b 47.0px,#0912a1 50.0px,#080ea7 51.5px,#070c8c 55.5px,#01010b 67.0px,#000004 72.0px,#000108 77.0px,#020328 80.5px,#050966 85.5px,#070c94 90.0px,#080ea5 90.5px,#0a149d 91.0px,#184444 94.5px,#f22d19 95.0px,#f77d1b 97.5px,#fff01e 100.0px,#fff528 100.5px,#fffcc1 108.0px,#fffee3 110.5px,#fffff4 112.0px,#fffffa 117.5px,#fffff4 123.0px,#fffdd1 126.0px,#fffcc2 127.0px,#fff41e 135.0px,#fbb11c 138.0px,#f55f1a 143.0px,#f33619 152.0px,#f22d19 154.5px,#e23019 159.5px,#884218 160.0px,#884218 189.0px)"></div>
<div style="left:40px;top:251.40px;height:189.10px;background:linear-gradient(#884218 0.0px,#884218 32.0px,#33551a 32.5px,#1f5a1b 38.5px,#1c5229 45.5px,#174345 47.5px,#09139f 50.0px,#080ea7 51.5px,#070c8d 55.5px,#000108 67.5px,#000108 77.0px,#070c95 90.0px,#080ea5 90.5px,#0a149d 91.0px,#184444 94.5px,#f22d19 95.0px,#f66a1b 97.0px,#faa71c 98.5px,#ffee1e 100.0px,#fff526 100.5px,#fffdce 109.0px,#fffef2 112.0px,#fffff9 117.5px,#fffef3 123.0px,#fffdc8 126.5px,#fff21e 135.0px,#fbb01c 138.0px,#f55f1a 143.0px,#f33719 151.5px,#f22d19 154.5px,#e33019 159.0px,#884218 159.5px,#884218 189.0px)"></div>
<div style="left:41px;top:251.40px;height:189.10px;background:linear-gradient(#884218 0.0px,#884218 32.0px,#33551a 32.5px,#1e5a1b 39.0px,#1c5329 45.5px,#184542 47.5px,#0a149c 50.0px,#080ea8 51.5px,#070c8f 55.5px,#01010b 67.5px,#000108 77.0px,#070c95 90.0px,#080ea6 90.5px,#184444 94.5px,#f12d19 95.0px,#f77b1b 97.5px,#feed1e 100.0px,#fff524 100.5px,#fffdcc 109.0px,#fffff4 112.5px,#fffff9 117.5px,#fffff4 122.5px,#fffdcd 126.0px,#fff01e 135.0px,#faae1c 138.0px,#f55e1a 143.0px,#f33719 151.5px,#f22d19 154.5px,#e33019 159.0px,#884218 159.5px,#884218 189.0px)"></div>
<div style="left:42px;top:251.40px;height:189.10px;background:linear-gradient(#884218 0.0px,#884218 32.0px,#33551a 32.5px,#1e5a1b 39.0px,#1c5329 45.5px,#19473e 47.5px,#0a1699 50.0px,#080ea8 51.5px,#070c8b 56.0px,#000109 68.0px,#000108 76.5px,#020327 80.0px,#050864 85.0px,#070c95 90.0px,#080ea6 90.5px,#184444 94.5px,#f12d19 95.0px,#f77a1b 97.5px,#feeb1e 100.0px,#fff522 100.5px,#fffdca 109.0px,#fffef2 112.5px,#fffff8 117.5px,#fffef2 122.5px,#fffdca 126.0px,#fff522 134.5px,#feed1e 135.0px,#fbb51c 137.5px,#f55e1a 143.0px,#f22e19 154.0px,#e23019 159.0px,#884218 159.5px,#884218 189.0px)"></div>
<div style="left:43px;top:251.40px;height:189.10px;background:linear-gradient(#884218 0.0px,#884218 32.5px,#32551a 33.0px,#1e5a1b 39.0px,#1c5328 45.5px,#19483d 47.5px,#0b1895 50.0px,#0911a2 50.5px,#080fa7 51.5px,#070c8c 56.0px,#020328 65.0px,#000109 68.5px,#000108 76.0px,#020329 80.0px,#050865 85.0px,#070c96 90.0px,#080ea6 90.5px,#184444 94.5px,#f02d19 95.0px,#f7791b 97.5px,#fee91e 100.0px,#fff520 100.5px,#fffdc8 109.0px,#fffff4 113.0px,#fffff7 117.5px,#fffef3 122.0px,#fffdc8 126.0px,#fff51f 134.5px,#fbb31c 137.5px,#f5611a 142.5px,#f33619 151.5px,#f12d19 154.5px,#e23019 159.0px,#884218 159.5px,#884218 189.0px)"></div>
<div style="left:44px;top:251.40px;height:189.10px;background:linear-gradient(#884218 0.0px,#884218 32.5px,#32551a 33.0px,#1e5a1b 39.0px,#1c5328 45.5px,#19493b 47.5px,#0912a1 50.5px,#080ea7 52.0px,#070c8e 56.0px,#02042b 65.0px,#000109 69.0px,#000108 75.5px,#020326 79.5px,#050966 85.0px,#070d96 90.0px,#080ea7 90.5px,#184443 94.5px,#f02d19 95.0px,#f7781b 97.5px,#fee71e 100.0px,#fff41e 100.5px,#fffdcb 109.5px,#fffff4 113.5px,#fffff7 117.5px,#fffff4 121.5px,#fffdcb 125.5px,#fff31e 134.5px,#fbb11c 137.5px,#f55f1a 142.5px,#f33619 151.5px,#f12d19 154.5px,#e23019 159.0px,#884218 159.5px,#884218 189.0px)"></div>
<div style="left:45px;top:251.40px;height:189.10px;background:linear-gradient(#884218 0.0px,#884218 32.5px,#33551a 33.0px,#1e5a1c 39.5px,#1c5229 46.0px,#184443 48.0px,#0a149d 50.5px,#080ea8 52.0px,#070c8f 56.0px,#020329 65.5px,#010110 68.5px,#000108 70.0px,#000108 75.0px,#020329 79.5px,#050968 85.0px,#070d97 90.0px,#080ea7 90.5px,#184542 94.5px,#ef2e19 95.0px,#f7771b 97.5px,#fee51e 100.0px,#fff21e 100.5px,#fffdc9 109.5px,#fffff4 114.0px,#fffff6 117.5px,#fffef4 121.0px,#fffdc7 125.5px,#fff524 134.0px,#ffef1e 134.5px,#faaf1c 137.5px,#f55f1a 142.5px,#f22d19 154.0px,#e23019 159.0px,#884218 159.5px,#884218 189.0px)"></div>
<div style="left:46px;top:251.40px;height:189.10px;background:linear-gradient(#884218 0.0px,#884218 32.5px,#33551a 33.0px,#1e5a1b 39.5px,#1c5329 46.0px,#19473e 48.0px,#0b1798 50.5px,#0911a2 51.0px,#080ea7 52.0px,#070c8c 56.5px,#02042c 65.5px,#010213 68.5px,#000108 70.5px,#000108 74.5px,#02042b 79.5px,#050864 84.5px,#070d97 90.0px,#080ea7 90.5px,#184640 94.5px,#ee2e19 95.0px,#f33719 95.5px,#f8881b 98.0px,#fee21e 100.0px,#fff524 101.0px,#fffcc5 109.5px,#fffef3 114.5px,#fffff5 117.5px,#fffef2 120.5px,#fffdca 125.0px,#fff520 134.0px,#feec1e 134.5px,#fbb51c 137.0px,#f55e1a 142.5px,#f22d19 154.0px,#e23019 159.0px,#884218 159.5px,#884218 189.0px)"></div>
<div style="left:47px;top:251.40px;height:189.10px;background:linear-gradient(#884218 0.0px,#884218 32.5px,#34551a 33.0px,#1e5a1b 39.5px,#1c5328 46.0px,#19483c 48.0px,#0912a1 51.0px,#080ea7 52.5px,#070c8e 56.5px,#01031e 67.5px,#01010d 70.5px,#000109 73.5px,#020329 79.0px,#050866 84.5px,#070d98 90.0px,#080ea8 90.5px,#18473e 94.5px,#ed2e19 95.0px,#f33619 95.5px,#f8861b 98.0px,#fee01d 100.0px,#fff521 101.0px,#fffdc8 110.0px,#fffeef 114.5px,#fffff4 117.5px,#fffeed 120.5px,#fffcc5 125.0px,#fff21e 134.0px,#fbb21c 137.0px,#f5611a 142.0px,#f33619 151.0px,#f22d19 154.0px,#e13019 159.0px,#884218 159.5px,#884218 189.0px)"></div>
<div style="left:48px;top:251.40px;height:189.10px;background:linear-gradient(#884218 0.0px,#884218 32.5px,#34551a 33.0px,#1f5a1b 39.5px,#1c5229 46.5px,#184444 48.5px,#0a149d 51.0px,#080ea8 52.5px,#070c8f 56.5px,#020322 67.5px,#010111 70.5px,#01010e 73.5px,#020328 78.5px,#070d98 90.0px,#080ea8 90.5px,#19483c 94.5px,#ec2e19 95.0px,#f33519 95.5px,#f8841b 98.0px,#fddd1d 100.0px,#fff41e 101.0px,#fffcc4 110.0px,#fffee7 114.0px,#fffef2 117.5px,#fffee8 120.5px,#fffdc7 124.5px,#fff523 133.5px,#ffee1e 134.0px,#faaf1c 137.0px,#f55f1a 142.0px,#f22e19 153.5px,#e13019 159.0px,#884218 159.5px,#884218 189.0px)"></div>
<div style="left:49px;top:251.40px;height:189.10px;background:linear-gradient(#884218 0.0px,#884218 33.0px,#33551a 33.5px,#1e5a1b 40.0px,#1c5329 46.5px,#19473e 48.5px,#0b1797 51.0px,#0911a2 51.5px,#080fa7 52.5px,#070c8d 57.0px,#020326 67.5px,#010215 70.5px,#010212 73.5px,#02042b 78.5px,#050865 84.0px,#070d99 90.0px,#080ea7 90.5px,#163f4d 94.0px,#19493b 94.5px,#eb2e19 95.0px,#f23419 95.5px,#f8831b 98.0px,#fdda1d 100.0px,#fff11e 101.0px,#fffcc6 110.5px,#fffee5 114.5px,#fffeed 117.5px,#fffee3 120.5px,#fffdc8 124.0px,#fff635 132.5px,#fff41e 133.5px,#fbb41c 136.5px,#f55e1a 142.0px,#f33719 150.5px,#f22d19 153.5px,#e23019 158.5px,#884218 159.0px,#884218 189.0px)"></div>
<div style="left:50px;top:251.40px;height:189.10px;background:linear-gradient(#884218 0.0px,#884218 33.0px,#34551a 33.5px,#1e5a1b 40.0px,#1c5328 46.5px,#19483c 48.5px,#0912a0 51.5px,#080ea7 53.0px,#070c8f 57.0px,#02032a 67.5px,#01021a 70.5px,#010216 73.5px,#02042b 78.0px,#070d99 90.0px,#080fa7 90.5px,#143859 93.5px,#194a38 94.5px,#ea2f19 95.0px,#f23319 95.5px,#f7811b 98.0px,#fdd71d 100.0px,#fff521 101.5px,#fffdc7 111.0px,#fffee0 114.5px,#fffee7 117.5px,#fffede 120.5px,#fffdc8 123.5px,#fff01e 133.5px,#fbb11c 136.5px,#f5611a 141.5px,#f22e19 153.0px,#e13019 158.5px,#884218 159.0px,#884218 189.0px)"></div>
<div style="left:51px;top:251.40px;height:189.10px;background:linear-gradient(#884218 0.0px,#884218 33.0px,#34551a 33.5px,#1f5a1b 40.0px,#1c5229 47.0px,#184641 49.0px,#0a169a 51.5px,#080ea7 53.0px,#070c8d 57.5px,#02042a 68.0px,#01021d 71.0px,#01021b 73.5px,#02042e 78.0px,#070c8d 88.0px,#070d9a 90.0px,#080fa6 90.5px,#143959 93.5px,#1a4b36 94.5px,#e92f19 95.0px,#f23219 95.5px,#f9911c 98.5px,#fdd41d 100.0px,#fff41e 101.5px,#fff63d 103.0px,#fffdc8 111.5px,#fffddb 114.5px,#fffee2 117.5px,#fffdd9 120.5px,#fffcc2 123.5px,#fff635 132.0px,#fff51e 133.0px,#fbb51c 136.0px,#f55f1a 141.5px,#f33619 150.5px,#f12d19 153.5px,#e13019 158.5px,#884218 159.0px,#884218 189.0px)"></div>
<div style="left:52px;top:251.40px;height:189.10px;background:linear-gradient(#884218 0.0px,#884218 33.0px,#34551a 33.5px,#1e5a1b 40.5px,#1c5329 47.0px,#19483d 49.0px,#0912a1 52.0px,#080ea7 53.5px,#070c8f 57.5px,#02042b 68.5px,#01031f 73.5px,#020432 78.0px,#070c8f 88.0px,#070d9b 90.0px,#080fa6 90.5px,#143959 93.5px,#1a4c34 94.5px,#e82f19 95.0px,#f23019 95.5px,#f88f1b 98.5px,#fdd01d 100.0px,#fff524 102.0px,#fffcc2 111.5px,#fffdd4 114.0px,#fffddd 117.0px,#fffdd8 119.5px,#fffdc7 122.5px,#fffb9c 125.5px,#fff01e 133.0px,#fbb11c 136.0px,#f5631a 141.0px,#f22d19 153.0px,#e13019 158.5px,#884218 159.0px,#884218 189.0px)"></div>
<div style="left:53px;top:251.40px;height:189.10px;background:linear-gradient(#884218 0.0px,#884218 33.5px,#34551a 34.0px,#1e5a1b 40.5px,#1c5229 47.5px,#184444 49.5px,#0a149c 52.0px,#080ea8 53.5px,#070c8d 58.0px,#02042f 68.5px,#020324 71.0px,#020323 74.0px,#030435 78.0px,#070c8b 87.5px,#070d9b 90.0px,#080fa5 90.5px,#143958 93.5px,#1a4d32 94.5px,#e62f19 95.0px,#f22f19 95.5px,#f88d1b 98.5px,#fccd1d 100.0px,#fff520 102.0px,#fff74f 104.5px,#fffcc1 112.0px,#fffdd2 114.5px,#fffdd7 117.0px,#fffdd1 120.0px,#fffcbf 122.5px,#fff74d 130.0px,#fff41e 132.5px,#fbb61c 135.5px,#f55f1a 141.0px,#f22e19 152.5px,#e03019 158.5px,#884218 159.0px,#884218 189.0px)"></div>
<div style="left:54px;top:251.40px;height:189.10px;background:linear-gradient(#884218 0.0px,#884218 33.5px,#34551a 34.0px,#1e5a1b 41.0px,#1c5329 47.5px,#19473e 49.5px,#0b1895 52.0px,#0911a2 52.5px,#080fa7 53.5px,#070c8f 58.0px,#020433 68.5px,#020328 71.0px,#020326 74.0px,#03053c 78.5px,#070c8d 87.5px,#070d9c 90.0px,#0810a5 90.5px,#153a56 93.5px,#1b4e31 94.5px,#e53019 95.0px,#f22e19 95.5px,#f77a1b 98.0px,#fcc91d 100.0px,#fff21e 102.0px,#fff752 105.0px,#fffcb3 111.5px,#fffdc8 113.5px,#fffdd2 117.0px,#fffdc9 120.5px,#fffcb7 122.5px,#fff750 129.5px,#fff522 132.0px,#ffef1e 132.5px,#fbb11c 135.5px,#f55e1a 141.0px,#f22e19 152.5px,#e13019 158.0px,#884218 158.5px,#884218 189.0px)"></div>
<div style="left:55px;top:251.40px;height:189.10px;background:linear-gradient(#884218 0.0px,#884218 33.5px,#34551a 34.0px,#1e5a1b 41.0px,#1c5328 47.5px,#19493b 49.5px,#0a149e 52.5px,#080ea8 54.0px,#070c8d 58.5px,#030537 68.5px,#02042a 71.5px,#02032a 74.0px,#03053f 78.5px,#070c8e 87.5px,#070d9d 90.0px,#0910a5 90.5px,#133364 93.0px,#1b4f2f 94.5px,#e43019 95.0px,#f12d19 95.5px,#f7771b 98.0px,#fcc51d 100.0px,#fff521 102.5px,#fff74e 105.0px,#fffbac 111.5px,#fffcc5 114.0px,#fffdcc 117.0px,#fffcc6 120.0px,#fffbaf 122.5px,#fff859 128.5px,#fff21e 132.0px,#fbb51c 135.0px,#f5601a 140.5px,#f22d19 152.5px,#e13019 158.0px,#884218 158.5px,#884218 189.0px)"></div>
<div style="left:56px;top:251.40px;height:189.10px;background:linear-gradient(#884218 0.0px,#884218 33.5px,#35551a 34.0px,#1e5a1c 41.5px,#1c5329 48.0px,#19473e 50.0px,#0b1896 52.5px,#0911a2 53.0px,#080fa7 54.0px,#070c8f 58.5px,#03053b 68.5px,#02042f 71.5px,#02042e 74.0px,#030642 78.5px,#070c8f 87.5px,#080d9e 90.0px,#0910a4 90.5px,#133364 93.0px,#1b512c 94.5px,#e23019 95.0px,#f02d19 95.5px,#f7751b 98.0px,#fcc11d 100.0px,#fff31e 102.5px,#fff751 105.5px,#fffba5 111.5px,#fffcbf 114.5px,#fffdc7 117.0px,#fffcc0 119.5px,#fffba6 122.5px,#fff753 128.5px,#fff51f 131.5px,#fbb11c 135.0px,#f55e1a 140.5px,#f22e19 152.0px,#e03119 158.0px,#884218 158.5px,#884218 189.0px)"></div>
<div style="left:57px;top:251.40px;height:189.10px;background:linear-gradient(#884218 0.0px,#884218 34.0px,#34551a 34.5px,#1e5a1b 41.5px,#1c5328 48.0px,#19483c 50.0px,#0a139e 53.0px,#080ea8 54.5px,#070c8e 59.0px,#030540 68.5px,#020433 71.5px,#020432 74.0px,#030646 78.5px,#070c8d 87.0px,#080d9f 90.0px,#0910a4 90.5px,#133363 93.0px,#1c522a 94.5px,#e13019 95.0px,#ee2e19 95.5px,#f5631a 97.5px,#fbbd1d 100.0px,#fff521 103.0px,#fff754 106.0px,#fffb9d 111.5px,#fffcb7 114.5px,#fffcbe 117.0px,#fffcb7 119.5px,#fffb9e 122.5px,#fff755 128.0px,#fff522 131.0px,#ffef1e 131.5px,#fbb41c 134.5px,#f55f1a 140.0px,#f22d19 152.0px,#e03119 158.0px,#884218 158.5px,#884218 189.0px)"></div>
<div style="left:58px;top:251.40px;height:189.10px;background:linear-gradient(#884218 0.0px,#884218 34.0px,#35551a 34.5px,#1f5a1b 41.5px,#1c5329 48.5px,#18473f 50.5px,#0b1896 53.0px,#0911a2 53.5px,#080fa7 54.5px,#070c90 59.0px,#030644 68.5px,#030537 71.5px,#030436 74.0px,#030649 78.5px,#070c8e 87.0px,#080da0 90.0px,#0911a3 90.5px,#112d6f 92.5px,#1c5328 94.5px,#df3119 95.0px,#f33519 96.0px,#f6711b 98.0px,#fbb81c 100.0px,#fff31e 103.0px,#fff74f 106.0px,#fffa96 111.5px,#fffbae 114.5px,#fffcb5 117.0px,#fffbae 119.5px,#fffa95 122.5px,#fff756 127.5px,#fff21e 131.0px,#fbb71c 134.0px,#f55e1a 140.0px,#f22e19 151.5px,#e03119 157.5px,#884218 158.0px,#884218 189.0px)"></div>
<div style="left:59px;top:251.40px;height:189.10px;background:linear-gradient(#884218 0.0px,#884218 34.0px,#35551a 34.5px,#1e5a1b 42.0px,#1c5328 48.5px,#19483b 50.5px,#0a149d 53.5px,#080ea8 55.0px,#070c8f 59.5px,#030648 68.5px,#03053a 74.0px,#04064c 78.5px,#070c90 87.0px,#080da0 90.0px,#0911a3 90.5px,#112d6f 92.5px,#1c5525 94.5px,#de3119 95.0px,#f23319 96.0px,#f66e1b 98.0px,#fbb41c 100.0px,#fff520 103.5px,#fff751 106.5px,#fffa8e 111.5px,#fffba6 114.5px,#fffbac 117.0px,#fffba5 119.5px,#fffa8d 122.5px,#fff74f 127.5px,#fff41e 130.5px,#fbb11c 134.0px,#f55f1a 139.5px,#f22d19 151.5px,#e03119 157.5px,#884218 158.0px,#884218 189.0px)"></div>
<div style="left:60px;top:251.40px;height:189.10px;background:linear-gradient(#884218 0.0px,#884218 34.5px,#35551a 35.0px,#1e5a1b 42.5px,#1c5329 49.0px,#19473e 51.0px,#102976 52.5px,#0912a1 54.0px,#080ea7 55.5px,#070c8d 60.0px,#030649 69.0px,#03053f 74.5px,#04074f 78.5px,#070c8d 86.5px,#080da1 90.0px,#0911a2 90.5px,#112d6e 92.5px,#1d5622 94.5px,#dc3119 95.0px,#f23119 96.0px,#fbb01c 100.0px,#fff21e 103.5px,#fff753 107.0px,#fffa87 111.5px,#fffb9d 114.5px,#fffba3 117.0px,#fffb9c 119.5px,#fffa84 122.5px,#fff748 127.5px,#fff51f 130.0px,#fbb41c 133.5px,#f5611a 139.0px,#f22d19 151.0px,#df3119 157.5px,#884218 158.0px,#884218 189.0px)"></div>
<div style="left:61px;top:251.40px;height:189.10px;background:linear-gradient(#884218 0.0px,#884218 34.5px,#37541a 35.0px,#1e5a1b 43.0px,#1c5328 49.0px,#19493b 51.0px,#0a159b 54.0px,#080ea7 55.5px,#070c90 60.0px,#04064e 69.0px,#030643 74.5px,#040753 78.5px,#080ea2 90.0px,#0911a2 90.5px,#112e6d 92.5px,#1d581f 94.5px,#db3219 95.0px,#f22f19 96.0px,#faad1c 100.0px,#fff51e 104.0px,#fff74d 107.0px,#fff97f 111.5px,#fffa95 114.5px,#fffb9a 117.0px,#fffa93 119.5px,#fff980 122.0px,#fff74f 126.5px,#fff520 129.5px,#ffee1e 130.0px,#fbb61c 133.0px,#f55e1a 139.0px,#f22d19 150.5px,#de3119 157.0px,#884218 157.5px,#884218 189.0px)"></div>
<div style="left:62px;top:251.40px;height:189.10px;background:linear-gradient(#884218 0.0px,#884218 35.0px,#37541a 35.5px,#1e5a1b 43.5px,#1c5328 49.5px,#19483d 51.5px,#0912a1 54.5px,#080ea8 56.0px,#040752 69.0px,#030647 74.5px,#040756 78.5px,#080ea3 90.0px,#0911a2 90.5px,#0f277a 92.0px,#1e591c 94.5px,#d93219 95.0px,#f22e19 96.0px,#faa91c 100.0px,#fff521 104.5px,#fff741 106.5px,#fff96f 110.5px,#fffa87 113.5px,#fffa91 116.5px,#fffa8a 119.5px,#fff973 122.5px,#fff748 126.5px,#fff521 129.0px,#fbb01c 133.0px,#f55f1a 138.5px,#f22d19 150.0px,#dd3119 157.0px,#884218 157.5px,#884218 189.0px)"></div>
<div style="left:63px;top:251.40px;height:189.10px;background:linear-gradient(#884218 0.0px,#884218 35.0px,#39541a 35.5px,#1e5a1b 44.0px,#1c5328 50.0px,#194a39 51.5px,#184542 52.0px,#0b1798 54.5px,#080fa7 56.0px,#070c8e 61.0px,#040756 69.0px,#04064a 73.5px,#040757 78.0px,#080ea4 90.0px,#0912a1 90.5px,#0f277a 92.0px,#21591b 94.5px,#d83219 95.0px,#f12d19 96.0px,#f5551a 97.5px,#faa51c 100.0px,#fff21e 104.5px,#fff742 107.0px,#fff868 110.5px,#fff981 114.0px,#fffa88 116.5px,#fff983 119.0px,#fff86b 122.5px,#fff741 126.5px,#fff521 128.5px,#fbb11c 132.5px,#f5611a 138.0px,#f22e19 149.5px,#dc3119 157.0px,#884218 157.5px,#884218 189.0px)"></div>
<div style="left:64px;top:251.40px;height:189.10px;background:linear-gradient(#884218 0.0px,#884218 35.0px,#3a541a 35.5px,#1e5a1b 44.5px,#1c5327 50.0px,#19493b 52.0px,#0a149d 55.0px,#080ea7 56.5px,#04085a 69.0px,#04074e 73.5px,#04085a 78.0px,#080ea5 90.0px,#0912a1 90.5px,#0f2878 92.0px,#1c5328 94.0px,#26581b 94.5px,#d83219 95.0px,#ee2e19 96.0px,#f4521a 97.5px,#faa11c 100.0px,#fff41e 105.0px,#fff63d 107.0px,#fff866 111.0px,#fff979 114.0px,#fff97f 116.5px,#fff97a 119.0px,#fff868 122.0px,#fff640 126.0px,#fff521 128.0px,#fbb31c 132.0px,#f55e1a 138.0px,#f22e19 149.0px,#dc3119 156.5px,#884218 157.0px,#884218 189.0px)"></div>
<div style="left:65px;top:251.40px;height:189.10px;background:linear-gradient(#884218 0.0px,#884218 35.5px,#3b541a 36.0px,#1e5a1b 45.0px,#1c5327 50.5px,#19483d 52.5px,#102a75 54.0px,#0912a1 55.5px,#080ea8 57.0px,#05085f 69.0px,#040752 73.5px,#04085e 78.0px,#080ea6 90.0px,#0d2086 91.5px,#1d5524 94.0px,#2a571b 94.5px,#d73219 95.0px,#ec2e19 96.0px,#f23419 96.5px,#f99e1c 100.0px,#fff51e 105.5px,#fff637 107.0px,#fff85f 111.0px,#fff971 114.0px,#fff976 116.5px,#fff971 119.0px,#fff860 122.0px,#fff63e 125.5px,#fff520 127.5px,#fbb31c 131.5px,#f55e1a 137.5px,#f22e19 148.5px,#da3219 156.5px,#884218 157.0px,#884218 189.0px)"></div>
<div style="left:66px;top:251.40px;height:189.10px;background:linear-gradient(#884218 0.0px,#884218 35.5px,#3c531a 36.0px,#1e5a1b 45.5px,#1c5329 51.0px,#194a39 52.5px,#184444 53.0px,#0b1798 55.5px,#080fa7 57.0px,#050861 69.5px,#040756 73.5px,#050861 78.0px,#080ea7 90.0px,#0d2185 91.5px,#1d5720 94.0px,#2f561b 94.5px,#d73219 95.0px,#f23219 96.5px,#f99a1c 100.0px,#fff520 106.0px,#fff637 107.5px,#fff858 111.0px,#fff86a 114.0px,#fff96e 116.5px,#fff86a 119.0px,#fff858 122.0px,#fff637 125.5px,#fff51f 127.0px,#fbb41c 131.0px,#f5601a 137.0px,#f22e19 148.0px,#d93219 156.5px,#884218 157.0px,#884218 189.0px)"></div>
<div style="left:67px;top:251.40px;height:189.10px;background:linear-gradient(#884218 0.0px,#884218 36.0px,#3c531a 36.5px,#1e5a1b 46.0px,#1c5427 51.0px,#19493b 53.0px,#0a149c 56.0px,#080ea7 57.5px,#050969 68.5px,#04085b 74.0px,#05096b 79.5px,#080ea8 90.0px,#0e2283 91.5px,#1e591d 94.0px,#32551a 94.5px,#d63319 95.0px,#f23019 96.5px,#f9961c 100.0px,#fff520 106.5px,#fff636 108.0px,#fff755 111.5px,#fff867 116.5px,#fff754 121.5px,#fff634 125.0px,#fff41e 126.5px,#fbb41c 130.5px,#f5611a 136.5px,#f22e19 147.5px,#d93219 156.0px,#884218 156.5px,#884218 189.0px)"></div>
<div style="left:68px;top:251.40px;height:189.10px;background:linear-gradient(#884218 0.0px,#884218 36.0px,#3e531a 36.5px,#1e5a1b 46.5px,#1c5427 51.5px,#19483d 53.5px,#102a74 55.0px,#0912a0 56.5px,#080ea8 58.0px,#05096d 68.5px,#05085f 74.0px,#05096c 79.0px,#080fa7 90.0px,#0c1a92 91.0px,#21591b 94.0px,#34551a 94.5px,#d63319 95.0px,#f22d19 96.5px,#f9911c 100.0px,#fff520 107.0px,#fff635 108.5px,#fff74e 111.5px,#fff85f 116.5px,#fff74c 121.5px,#fff21e 126.0px,#fbb41c 130.0px,#f55d1a 136.5px,#f22e19 147.0px,#d73219 156.0px,#884218 156.5px,#884218 189.0px)"></div>
<div style="left:69px;top:251.40px;height:189.10px;background:linear-gradient(#884218 0.0px,#884218 36.5px,#3f531a 37.0px,#1e5a1b 47.0px,#1c5328 52.0px,#194a39 53.5px,#184542 54.0px,#0b1896 56.5px,#0912a1 57.0px,#080fa6 58.0px,#05096e 69.0px,#050863 74.0px,#05096e 79.0px,#080fa6 90.0px,#0c1a91 91.0px,#1c5327 93.5px,#27581b 94.0px,#35551a 94.5px,#d53319 95.0px,#f12d19 96.5px,#f88d1b 100.0px,#fff51f 107.5px,#fff633 109.0px,#fff747 111.5px,#fff857 116.5px,#fff747 121.0px,#fff634 123.5px,#fff51f 125.0px,#f55e1a 136.0px,#f22e19 146.5px,#d73219 155.5px,#884218 156.0px,#884218 189.0px)"></div>
<div style="left:70px;top:251.40px;height:189.10px;background:linear-gradient(#884218 0.0px,#884218 36.5px,#40521a 37.0px,#1e5a1b 47.5px,#1c5426 52.0px,#19493a 54.0px,#0a1699 57.0px,#080fa7 58.5px,#050972 69.0px,#050966 74.0px,#05096f 78.5px,#080ea6 89.0px,#0810a5 90.0px,#0c1c8d 91.0px,#1d5623 93.5px,#37541a 94.5px,#d43319 95.0px,#f02d19 96.5px,#f33519 97.0px,#f8891b 100.0px,#fff51e 108.0px,#fff740 111.5px,#fff74f 116.0px,#fff743 120.5px,#fff31e 124.5px,#f55e1a 135.5px,#f22e19 146.0px,#d63319 155.5px,#884218 156.0px,#884218 189.0px)"></div>
<div style="left:71px;top:251.40px;height:189.10px;background:linear-gradient(#884218 0.0px,#884218 37.0px,#41521a 37.5px,#1e5a1b 48.0px,#1c5426 52.5px,#19483c 54.5px,#0a149c 57.5px,#080fa7 59.0px,#060a75 69.0px,#05096a 74.0px,#050972 78.5px,#080ea8 89.0px,#0910a4 90.0px,#0a149d 90.5px,#1d581e 93.5px,#38541a 94.5px,#d43319 95.0px,#ef2e19 96.5px,#f33f19 97.5px,#f8851b 100.0px,#fff31e 108.5px,#fff63c 112.0px,#fff748 116.0px,#fff63b 120.5px,#fff51e 123.5px,#f55e1a 135.0px,#f22e19 145.5px,#d53319 155.0px,#884218 155.5px,#884218 189.0px)"></div>
<div style="left:72px;top:251.40px;height:189.10px;background:linear-gradient(#884218 0.0px,#884218 37.0px,#42521a 37.5px,#1e5a1b 48.5px,#1c5427 53.0px,#19483d 55.0px,#102a73 56.5px,#09139f 58.0px,#080ea7 59.5px,#060a77 69.5px,#05096d 74.0px,#060a77 79.0px,#080ea6 88.5px,#0911a3 90.0px,#0a159c 90.5px,#1f5a1b 93.5px,#3a541a 94.5px,#d33319 95.0px,#ef2e19 96.5px,#f33c19 97.5px,#f7801b 100.0px,#fff11e 109.0px,#fff638 112.5px,#fff740 116.0px,#fff635 120.0px,#fff51f 122.5px,#f55f1a 134.5px,#f22e19 145.0px,#d43319 155.0px,#884218 155.5px,#884218 189.0px)"></div>
<div style="left:73px;top:251.40px;height:189.10px;background:linear-gradient(#884218 0.0px,#884218 37.5px,#43521a 38.0px,#1e5a1b 49.0px,#1c5328 53.5px,#194a38 55.0px,#184641 55.5px,#102976 57.0px,#0912a1 58.5px,#080ea8 60.0px,#060a7a 69.5px,#050970 74.0px,#060a79 79.0px,#080ea7 88.5px,#0911a2 90.0px,#0b1896 90.5px,#1c5328 93.0px,#22591b 93.5px,#3b531a 94.5px,#d33319 95.0px,#ee2e19 96.5px,#f4461a 98.0px,#f77c1b 100.0px,#fee91e 109.0px,#fff520 110.5px,#fff634 113.5px,#fff638 116.0px,#fff633 118.5px,#fff51e 121.5px,#fdd61d 124.5px,#f55f1a 134.0px,#f22e19 144.5px,#d33319 154.5px,#884218 155.0px,#884218 189.0px)"></div>
<div style="left:74px;top:251.40px;height:189.10px;background:linear-gradient(#884218 0.0px,#884218 38.0px,#43521a 38.5px,#1e5a1b 49.5px,#1c5426 53.5px,#194a3a 55.5px,#0912a1 59.0px,#080ea8 60.5px,#060a7e 69.5px,#060a74 74.0px,#060a7c 79.0px,#080ea8 88.5px,#0912a1 90.0px,#1d5623 93.0px,#23591b 93.5px,#3d531a 94.5px,#d23319 95.0px,#f23119 97.0px,#f7781b 100.0px,#fddc1d 108.5px,#fff51f 111.5px,#fff62f 116.0px,#fff31e 120.5px,#fdd21d 124.0px,#f55f1a 133.5px,#f22d19 144.0px,#d23319 154.5px,#884218 155.0px,#884218 189.0px)"></div>
<div style="left:75px;top:251.40px;height:189.10px;background:linear-gradient(#884218 0.0px,#884218 38.0px,#45511a 38.5px,#1e5a1b 50.0px,#1c5426 54.0px,#19493a 56.0px,#0b1797 59.0px,#0911a2 59.5px,#080ea8 61.0px,#060b80 70.0px,#060a77 74.5px,#060b7f 79.0px,#080ea7 88.0px,#0911a2 89.5px,#0c1d8b 90.5px,#1d581f 93.0px,#3f531a 94.5px,#d13319 95.0px,#f23119 97.0px,#f7731b 100.0px,#fdcf1d 108.0px,#fff31e 112.5px,#fff524 115.5px,#fff51e 118.5px,#fee11e 121.5px,#f55f1a 133.0px,#f22d19 143.5px,#d23319 154.0px,#884218 154.5px,#884218 189.0px)"></div>
<div style="left:76px;top:251.40px;height:189.10px;background:linear-gradient(#884218 0.0px,#884218 38.5px,#46511a 39.0px,#1e5a1b 50.5px,#1c5426 54.5px,#19493b 56.5px,#0a1698 59.5px,#0911a2 60.0px,#080ea8 61.5px,#060b81 70.5px,#060a7a 74.5px,#060b82 79.0px,#080ea8 88.0px,#0912a1 89.5px,#0d2086 90.5px,#1b512c 92.5px,#1e581e 93.0px,#40521a 94.5px,#d13419 95.0px,#f23019 97.0px,#f66e1b 100.0px,#fcc71d 108.0px,#fee71e 112.0px,#fff11e 115.5px,#feeb1e 118.5px,#fdd81d 121.5px,#f55f1a 132.5px,#f22d19 143.0px,#d03419 154.0px,#884218 154.5px,#884218 189.0px)"></div>
<div style="left:77px;top:251.40px;height:189.10px;background:linear-gradient(#884218 0.0px,#884218 39.0px,#46511a 39.5px,#1e5a1b 51.0px,#1c5426 55.0px,#19483c 57.0px,#112c70 58.5px,#0a1699 60.0px,#080fa6 61.5px,#060b83 71.0px,#060a7e 74.5px,#060b85 79.0px,#080ea7 87.5px,#0911a2 89.0px,#0a149c 89.5px,#0e2380 90.5px,#1c5427 92.5px,#1e591d 93.0px,#42521a 94.5px,#d03419 95.0px,#f22f19 97.0px,#f66a1b 100.0px,#f99d1c 104.5px,#fdd91d 111.0px,#fee81e 115.5px,#fee11e 118.5px,#fcce1d 121.5px,#f55f1a 132.0px,#f22d19 142.5px,#d03419 153.5px,#884218 154.0px,#884218 189.0px)"></div>
<div style="left:78px;top:251.40px;height:189.10px;background:linear-gradient(#884218 0.0px,#884218 39.0px,#48511a 39.5px,#41521a 43.0px,#1e5a1b 51.5px,#1c5427 55.5px,#19483d 57.5px,#112c71 59.0px,#0a169a 60.5px,#080fa6 62.0px,#060b81 74.5px,#060b86 78.5px,#080ea7 87.5px,#0912a1 89.0px,#0f277a 90.5px,#1c5525 92.5px,#1e5a1b 93.0px,#43521a 94.5px,#d03419 95.0px,#f22f19 97.0px,#f6651a 100.0px,#f99d1c 105.0px,#fdd01d 111.0px,#fede1d 115.5px,#fdda1d 118.0px,#fcc81d 121.0px,#f9961c 126.5px,#f55e1a 131.5px,#f22d19 142.0px,#cf3419 153.0px,#884218 153.5px,#884218 189.0px)"></div>
<div style="left:79px;top:251.40px;height:189.10px;background:linear-gradient(#884218 0.0px,#884218 39.5px,#49501a 40.0px,#41521a 43.5px,#1e5a1b 52.0px,#1c5327 56.0px,#19483d 58.0px,#102b72 59.5px,#0a159a 61.0px,#080ea8 63.0px,#070b89 71.5px,#060b84 75.0px,#070c8a 79.0px,#080ea8 87.0px,#0911a2 88.5px,#0a149c 89.0px,#102a74 90.5px,#1b4f2f 92.0px,#1d5623 92.5px,#205a1b 93.0px,#43521a 94.5px,#cf3419 95.0px,#f22e19 97.0px,#f55c1a 99.5px,#f99c1c 105.5px,#fccb1d 111.5px,#fdd51d 115.5px,#fdd01d 118.0px,#fbbe1d 121.0px,#f9981c 125.5px,#f55e1a 131.0px,#f22d19 141.5px,#d53319 149.0px,#ce3419 153.0px,#884218 153.5px,#884218 189.0px)"></div>
<div style="left:80px;top:251.40px;height:189.10px;background:linear-gradient(#884218 0.0px,#884218 40.0px,#49501a 40.5px,#42521a 44.0px,#1e5a1b 52.5px,#1c5328 56.5px,#18473e 58.5px,#102b72 60.0px,#0a169a 61.5px,#080ea8 63.5px,#060b87 75.0px,#070c92 81.0px,#080ea7 86.5px,#0912a1 88.5px,#112d6e 90.5px,#19473e 91.5px,#1d5622 92.5px,#43521a 94.5px,#ce3419 95.0px,#f22d19 97.0px,#f55b1a 99.5px,#faab1c 108.0px,#fcc41d 112.0px,#fccc1d 115.5px,#fcc41d 118.5px,#faa61c 123.0px,#f5601a 130.0px,#f22d19 141.0px,#d53319 148.5px,#cd3419 152.5px,#884218 153.0px,#884218 189.0px)"></div>
<div style="left:81px;top:251.40px;height:189.10px;background:linear-gradient(#884218 0.0px,#884218 40.0px,#4b501a 40.5px,#44511a 44.0px,#1e5a1c 53.0px,#1c5328 57.0px,#18463f 59.0px,#102b72 60.5px,#0911a2 62.5px,#080ea8 64.0px,#070c93 70.0px,#070c8b 75.5px,#070c94 81.0px,#080ea8 86.5px,#0a149c 88.5px,#123266 90.5px,#1a4b38 91.5px,#1d5720 92.5px,#43521a 94.5px,#ce3419 95.0px,#f12d19 97.0px,#f33519 97.5px,#f55b1a 99.5px,#f6631a 101.0px,#f99a1c 106.5px,#fbb91d 111.5px,#fcc21d 115.0px,#fbbc1d 118.0px,#faa61c 122.0px,#f55f1a 129.5px,#f22d19 140.5px,#d43319 148.0px,#cc3419 152.0px,#884218 152.5px,#884218 189.0px)"></div>
<div style="left:82px;top:251.40px;height:189.10px;background:linear-gradient(#884218 0.0px,#884218 40.5px,#4a501a 41.0px,#41521a 45.0px,#1e5a1b 52.5px,#1b512b 57.5px,#19483c 59.0px,#184542 59.5px,#102a74 61.0px,#0a1699 62.5px,#0911a2 63.0px,#080ea8 64.5px,#070c95 70.0px,#070c8e 75.0px,#070c94 80.5px,#080ea7 86.0px,#0912a1 88.0px,#112d6f 90.0px,#1a4d34 91.5px,#1d5720 92.5px,#43521a 94.5px,#ce3419 95.0px,#f22d19 97.0px,#f55b1a 99.5px,#f5611a 101.0px,#faa31c 108.5px,#fbb91d 115.0px,#faa91c 120.5px,#f88c1b 124.5px,#f5601a 129.0px,#f22d19 140.5px,#d53319 147.5px,#cc3519 152.0px,#884218 152.5px,#884218 189.0px)"></div>
<div style="left:83px;top:251.40px;height:189.10px;background:linear-gradient(#884218 0.0px,#884218 41.0px,#49501a 41.5px,#3f531a 45.5px,#1e5a1b 52.0px,#1b4e31 58.0px,#184641 59.5px,#174346 60.0px,#102976 61.5px,#0a1699 63.0px,#0911a3 63.5px,#080ea8 65.0px,#070c91 75.0px,#070c95 80.0px,#080ea8 86.0px,#0911a2 87.5px,#102878 89.5px,#1a4c35 91.5px,#1d5720 92.5px,#42521a 94.5px,#cf3419 95.0px,#f22e19 97.0px,#f55d1a 99.5px,#f6641a 101.5px,#faa11c 109.0px,#fbb21c 115.0px,#faa21c 120.5px,#f6651a 128.0px,#f22e19 140.5px,#d73219 147.0px,#ce3419 151.5px,#884218 152.0px,#884218 189.0px)"></div>
<div style="left:84px;top:251.40px;height:189.10px;background:linear-gradient(#884218 0.0px,#884218 41.5px,#47511a 42.0px,#3e531a 45.5px,#205a1b 51.0px,#1a4a38 58.5px,#16404c 60.5px,#102878 62.0px,#0911a3 64.0px,#080ea7 65.5px,#070c94 76.0px,#080ea8 85.5px,#09139f 87.5px,#102b73 89.5px,#184542 91.0px,#23591b 93.0px,#40521a 94.5px,#d03419 95.0px,#f23119 97.0px,#f5571a 99.0px,#f5601a 99.5px,#f6691a 102.0px,#f99b1c 108.5px,#faac1c 115.0px,#f99f1c 120.0px,#f6681a 127.5px,#f22d19 141.0px,#d03419 151.0px,#884218 151.5px,#884218 189.0px)"></div>
<div style="left:85px;top:251.40px;height:189.10px;background:linear-gradient(#884218 0.0px,#884218 41.5px,#47511a 42.0px,#3b531a 46.0px,#205a1b 50.5px,#18473f 59.0px,#163d51 61.0px,#0e2283 63.0px,#0912a0 64.5px,#0911a3 65.0px,#080ea8 67.0px,#070d99 76.0px,#080ea8 84.5px,#0b1798 87.5px,#205a1b 93.0px,#3f521a 94.5px,#d23319 95.0px,#ef2e19 96.5px,#f55b1a 99.0px,#f6641a 99.5px,#f66e1b 102.5px,#f9971c 108.5px,#faa71c 115.0px,#f99b1c 120.0px,#f66f1b 126.5px,#f55a1a 132.5px,#f22d19 141.5px,#d23319 151.0px,#884218 151.5px,#884218 189.0px)"></div>
<div style="left:86px;top:251.40px;height:189.10px;background:linear-gradient(#884218 0.0px,#884218 42.0px,#44511a 42.5px,#37541a 46.5px,#1e591c 50.5px,#174248 59.5px,#143959 61.5px,#0a139e 65.0px,#080ea8 68.0px,#070d9d 75.0px,#080ea8 83.5px,#0a139e 86.5px,#102975 89.0px,#1e591d 93.0px,#3e531a 94.5px,#d63319 95.0px,#f22f19 96.5px,#f66b1b 99.5px,#f99c1c 109.5px,#faa61c 115.5px,#f99a1c 120.0px,#f7761b 126.0px,#f5601a 132.5px,#f22d19 142.5px,#d63319 150.5px,#884218 151.0px,#884218 189.0px)"></div>
<div style="left:87px;top:251.40px;height:189.10px;background:linear-gradient(#884218 0.0px,#884218 42.5px,#44511a 43.0px,#35551a 47.0px,#20591b 50.0px,#14375d 62.0px,#0e2282 64.0px,#0a149c 66.0px,#080ea8 72.5px,#080ea7 79.5px,#0b1798 86.5px,#0f2878 88.5px,#1e581e 93.0px,#3d531a 94.5px,#db3219 95.0px,#f02d19 96.0px,#f7751b 99.5px,#f9a01c 109.5px,#faa81c 116.0px,#f6691a 132.5px,#f22e19 143.5px,#dc3119 150.0px,#884218 150.5px,#884218 189.0px)"></div>
<div style="left:88px;top:251.40px;height:189.10px;background:linear-gradient(#884218 0.0px,#884218 43.0px,#46511a 43.5px,#36551a 47.5px,#20591b 50.5px,#14375c 62.5px,#0b1a92 66.5px,#0a149d 74.5px,#0c1c8e 86.0px,#174346 91.0px,#1e591d 93.0px,#40521a 94.5px,#dc3119 95.0px,#f22d19 96.0px,#f66f1b 99.0px,#f7771b 99.5px,#f99a1c 109.0px,#faa31c 116.0px,#f66f1b 131.5px,#f12d19 144.0px,#dd3119 149.5px,#884218 150.0px,#884218 189.0px)"></div>
<div style="left:89px;top:251.40px;height:189.10px;background:linear-gradient(#884218 0.0px,#884218 43.5px,#47511a 44.0px,#36551a 48.0px,#205a1b 51.0px,#14375c 63.0px,#0d1f88 67.0px,#0c1a91 74.5px,#0e2283 86.0px,#174345 91.0px,#1e591c 93.0px,#41521a 94.5px,#db3219 95.0px,#f02d19 96.0px,#f66c1b 99.0px,#f7781b 100.5px,#f9911c 109.0px,#f9991c 116.5px,#f66b1b 131.5px,#f22d19 143.0px,#dc3119 149.0px,#884218 149.5px,#884218 189.0px)"></div>
<div style="left:90px;top:251.40px;height:189.10px;background:linear-gradient(#884218 0.0px,#884218 44.0px,#48501a 44.5px,#36541a 48.5px,#1f5a1b 51.5px,#174149 58.5px,#133560 64.0px,#0e2381 68.0px,#0d2087 74.5px,#0f267c 85.5px,#16404b 90.5px,#1e591c 93.0px,#43521a 94.5px,#da3219 95.0px,#ef2e19 96.0px,#f23419 96.5px,#f66b1b 99.0px,#f77f1b 103.0px,#f9921c 116.5px,#f6691a 131.5px,#f22d19 142.5px,#da3219 149.0px,#884218 149.5px,#884218 189.0px)"></div>
<div style="left:91px;top:251.40px;height:189.10px;background:linear-gradient(#884218 0.0px,#884218 44.5px,#4a501a 45.0px,#35551a 49.5px,#1f5a1b 52.0px,#174247 58.5px,#13365e 64.5px,#102977 68.5px,#0f267c 75.0px,#102a74 85.0px,#174149 90.5px,#1e5a1b 93.0px,#45511a 94.5px,#da3219 95.0px,#ef2e19 96.0px,#f23419 96.5px,#f66b1b 99.0px,#f77e1b 103.0px,#f88d1b 116.5px,#f6691b 131.0px,#f22e19 142.0px,#d93219 148.5px,#884218 149.0px,#884218 189.0px)"></div>
<div style="left:92px;top:251.40px;height:189.10px;background:linear-gradient(#884218 0.0px,#884218 45.0px,#4b501a 45.5px,#35551a 50.0px,#1f5a1b 52.5px,#163e50 60.5px,#112d6e 69.0px,#102b73 75.0px,#122f6b 85.0px,#174149 90.5px,#1f5a1b 93.0px,#46511a 94.5px,#d43319 95.0px,#f22e19 96.5px,#f5611a 99.0px,#f6721b 103.0px,#f77d1b 116.5px,#f5601a 130.5px,#f12d19 140.5px,#d43319 148.0px,#884218 148.5px,#884218 189.0px)"></div>
<div style="left:93px;top:251.40px;height:189.10px;background:linear-gradient(#884218 0.0px,#884218 45.5px,#4c501a 46.0px,#34551a 50.5px,#1e5a1c 53.0px,#163f4d 59.5px,#153a56 61.5px,#122f6b 70.0px,#112d6e 75.0px,#133265 85.5px,#174346 91.0px,#1e5a1c 93.0px,#46511a 94.5px,#d03419 95.0px,#f23219 97.0px,#f55a1a 99.0px,#f6691a 103.0px,#f6721b 116.0px,#f5581a 130.0px,#f12d19 139.0px,#cf3419 147.5px,#884218 148.0px,#884218 189.0px)"></div>
<div style="left:94px;top:251.40px;height:189.10px;background:linear-gradient(#884218 0.0px,#884218 46.0px,#4c501a 46.5px,#37541a 50.5px,#1e591d 53.5px,#163f4d 59.5px,#14385b 62.5px,#122f6b 75.5px,#133364 85.0px,#163d51 90.0px,#174148 91.0px,#1e591d 93.0px,#46511a 94.5px,#d43319 95.0px,#f22d19 96.5px,#f5621a 99.0px,#f6701b 103.0px,#f7791b 116.0px,#f55f1a 130.0px,#f12d19 139.5px,#d23319 147.0px,#884218 147.5px,#884218 189.0px)"></div>
<div style="left:95px;top:251.40px;height:189.10px;background:linear-gradient(#884218 0.0px,#884218 46.5px,#4e4f1a 47.0px,#35551a 51.5px,#1e591c 54.0px,#163f4d 60.0px,#14385a 63.0px,#123166 75.5px,#133461 85.0px,#163d50 90.0px,#174248 91.0px,#1e591c 93.0px,#47511a 94.5px,#dd3119 95.0px,#f22f19 96.0px,#f7741b 99.0px,#f8841b 103.0px,#f88d1b 116.0px,#f66f1b 130.0px,#f22d19 141.0px,#da3219 146.5px,#884218 147.0px,#884218 189.0px)"></div>
<div style="left:96px;top:251.40px;height:189.10px;background:linear-gradient(#884218 0.0px,#884218 47.0px,#524e1a 47.5px,#3a541a 52.0px,#1e591c 55.0px,#174248 60.5px,#153b55 63.5px,#13355f 76.0px,#143959 85.5px,#17404b 90.0px,#184443 91.0px,#20591b 93.0px,#4a501a 94.5px,#e33019 95.0px,#ef2e19 95.5px,#f33619 96.0px,#f7811b 99.0px,#f8901b 102.5px,#f99b1c 115.5px,#f7791b 130.0px,#f22e19 141.5px,#df3119 146.0px,#884218 146.5px,#884218 189.0px)"></div>
<div style="left:97px;top:251.40px;height:189.10px;background:linear-gradient(#884218 0.0px,#884218 47.5px,#554d19 48.0px,#3f531a 52.5px,#1e5a1c 56.0px,#184443 61.0px,#163e4f 64.0px,#143958 76.0px,#153c53 85.5px,#174345 90.0px,#19473e 91.0px,#1d5721 92.5px,#4d4f1a 94.5px,#e13019 95.0px,#f23419 96.0px,#f77f1b 99.0px,#f88d1b 102.5px,#f9971c 115.5px,#f7761b 129.5px,#f22e19 140.5px,#dc3119 145.5px,#884218 146.0px,#884218 189.0px)"></div>
<div style="left:98px;top:251.40px;height:189.10px;background:linear-gradient(#884218 0.0px,#884218 48.0px,#584d19 48.5px,#43521a 53.0px,#1e5a1c 57.0px,#19473d 61.5px,#174248 64.5px,#163d51 76.5px,#16404c 85.5px,#18473f 90.0px,#194a38 91.0px,#1e591d 92.5px,#504f1a 94.5px,#dc3119 95.0px,#f22e19 96.0px,#f7731b 99.0px,#f7811b 102.5px,#f88a1b 115.0px,#f66c1b 129.0px,#f22d19 139.0px,#d73219 145.0px,#884218 145.5px,#884218 189.0px)"></div>
<div style="left:99px;top:251.40px;height:189.10px;background:linear-gradient(#884218 0.0px,#884218 48.5px,#5c4c19 49.0px,#48501a 53.5px,#1f5a1b 58.0px,#1a4c36 62.0px,#184640 65.0px,#174248 76.5px,#184542 86.0px,#1a4c35 90.5px,#1d5721 92.0px,#22591b 92.5px,#544e19 94.5px,#d33319 95.0px,#f22e19 96.5px,#f5621a 99.0px,#f66e1b 102.5px,#f7761b 115.0px,#f55d1a 128.0px,#f22d19 136.5px,#d03419 144.0px,#884218 144.5px,#884218 189.0px)"></div>
<div style="left:100px;top:251.40px;height:189.10px;background:linear-gradient(#884218 0.0px,#884218 49.5px,#5f4b19 50.0px,#4f4f1a 54.0px,#1e591d 60.0px,#1a4b36 66.0px,#19483c 76.5px,#1a4b37 86.0px,#1b512c 90.5px,#205a1b 92.0px,#594d19 94.5px,#d23319 95.0px,#f12d19 96.5px,#f55f1a 99.0px,#f66b1b 102.5px,#f7731b 114.5px,#f55b1a 127.5px,#f22e19 135.5px,#ce3419 143.5px,#884218 144.0px,#884218 189.0px)"></div>
<div style="left:101px;top:251.40px;height:189.10px;background:linear-gradient(#884218 0.0px,#884218 50.0px,#634a19 50.5px,#524e1a 55.0px,#1e591c 61.5px,#1b502e 67.0px,#1a4d33 77.0px,#1b4f2f 86.0px,#1d5524 90.5px,#1e591c 91.5px,#5d4c19 94.5px,#dc3119 95.0px,#f22e19 96.0px,#f7741b 99.0px,#f7811b 102.5px,#f88a1b 114.0px,#f66d1b 127.5px,#f22d19 137.5px,#d83219 143.0px,#884218 143.5px,#884218 189.0px)"></div>
<div style="left:102px;top:251.40px;height:189.10px;background:linear-gradient(#884218 0.0px,#884218 50.5px,#694919 51.0px,#5a4c19 55.5px,#1e5a1b 64.5px,#1d5524 77.0px,#1e5a1c 89.0px,#2b571b 91.5px,#644a19 94.5px,#e03119 95.0px,#f23419 96.0px,#f77d1b 99.0px,#f88a1b 102.0px,#f9941c 114.0px,#f7761b 127.0px,#f02d19 138.0px,#db3119 142.5px,#884218 143.0px,#884218 189.0px)"></div>
<div style="left:103px;top:251.40px;height:189.10px;background:linear-gradient(#884218 0.0px,#884218 51.0px,#6e4819 51.5px,#614b19 56.0px,#2a571b 66.0px,#21591b 77.5px,#25581b 86.0px,#34551a 91.0px,#694919 94.5px,#e43019 95.0px,#f22d19 95.5px,#f77f1b 98.5px,#f8861b 99.0px,#f9941c 102.0px,#f99e1c 113.5px,#f77c1b 127.0px,#f22d19 138.0px,#e13019 141.5px,#884218 142.0px,#884218 189.0px)"></div>
<div style="left:104px;top:251.40px;height:189.10px;background:linear-gradient(#884218 0.0px,#884218 52.0px,#704719 52.5px,#664a19 56.5px,#33551a 66.5px,#2c571b 77.5px,#30561a 86.5px,#3f521a 91.5px,#6c4819 94.5px,#e72f19 95.0px,#f23019 95.5px,#f8861b 98.5px,#f88c1b 99.0px,#f99a1c 102.0px,#faa51c 113.5px,#f8821b 126.5px,#f12d19 138.0px,#e33019 141.0px,#884218 141.5px,#884218 189.0px)"></div>
<div style="left:105px;top:251.40px;height:189.10px;background:linear-gradient(#884218 0.0px,#884218 52.5px,#724719 53.0px,#684919 57.0px,#38541a 67.0px,#35551a 86.5px,#43521a 91.5px,#6e4819 94.5px,#e53019 95.0px,#f22d19 95.5px,#f8831b 98.5px,#f8871b 99.0px,#f9941c 102.0px,#f99f1c 113.0px,#f77d1b 126.0px,#f12d19 137.0px,#e03119 140.5px,#884218 141.0px,#884218 189.0px)"></div>
<div style="left:106px;top:251.40px;height:189.10px;background:linear-gradient(#884218 0.0px,#884218 53.5px,#6f4819 54.0px,#644a19 58.0px,#31561a 67.5px,#29571b 78.0px,#2d571b 86.5px,#3c531a 91.5px,#6b4919 94.5px,#db3219 95.0px,#f22f19 96.0px,#f6701b 98.5px,#f7731b 99.0px,#f77e1b 102.0px,#f8881b 113.0px,#f66c1b 125.0px,#f12d19 134.5px,#d73219 139.5px,#884218 140.0px,#884218 189.0px)"></div>
<div style="left:107px;top:251.40px;height:189.10px;background:linear-gradient(#884218 0.0px,#884218 54.0px,#6c4819 54.5px,#5f4b19 58.5px,#2e561b 65.5px,#23591b 68.0px,#1f5a1b 86.5px,#30561a 91.5px,#664a19 94.5px,#d23319 95.0px,#f23019 96.5px,#f55f1a 98.5px,#f66a1b 101.5px,#f7731b 112.5px,#f55a1a 124.5px,#f12d19 132.0px,#ce3419 139.0px,#884218 139.5px,#884218 189.0px)"></div>
<div style="left:108px;top:251.40px;height:189.10px;background:linear-gradient(#884218 0.0px,#884218 55.0px,#694919 55.5px,#594d19 59.5px,#1e5a1b 67.5px,#1d5524 79.0px,#1e5a1b 89.5px,#27581b 91.5px,#634a19 94.5px,#d23319 95.0px,#f23019 96.5px,#f55f1a 98.5px,#f66b1b 101.5px,#f7731b 112.0px,#f55a1a 124.0px,#f22e19 131.0px,#cf3419 138.0px,#884218 138.5px,#884218 189.0px)"></div>
<div style="left:109px;top:251.40px;height:189.10px;background:linear-gradient(#884218 0.0px,#884218 55.5px,#684919 56.0px,#584d19 60.0px,#1e591c 67.0px,#1c5427 71.5px,#1c5229 79.5px,#1e591c 91.0px,#29581b 92.0px,#614b19 94.5px,#d23319 95.0px,#f23119 96.5px,#f55f1a 98.5px,#f66b1b 101.5px,#f7731b 112.0px,#f55a1a 123.5px,#f22d19 130.5px,#ce3419 137.5px,#884218 138.0px,#884218 189.0px)"></div>
<div style="left:110px;top:251.40px;height:189.10px;background:linear-gradient(#884218 0.0px,#884218 56.5px,#674919 57.0px,#564d19 61.0px,#1e5a1c 67.5px,#1c5427 72.0px,#1c5229 79.5px,#1e591d 91.0px,#27581b 92.0px,#614b19 94.5px,#d33319 95.0px,#ec2e19 96.0px,#f23319 96.5px,#f5621a 98.5px,#f66e1b 101.5px,#f7761b 111.5px,#f55c1a 123.0px,#f22e19 130.0px,#d03419 136.5px,#884218 137.0px,#884218 189.0px)"></div>
<div style="left:111px;top:251.40px;height:189.10px;background:linear-gradient(#884218 0.0px,#884218 57.5px,#684919 58.0px,#5a4c19 61.5px,#1e5a1b 69.0px,#1c5525 80.0px,#1e5a1c 90.0px,#2a571b 92.0px,#624b19 94.5px,#d93219 95.0px,#f22f19 96.0px,#f6661a 98.0px,#f66e1b 98.5px,#f7791b 101.0px,#f8821b 111.0px,#f6671a 122.5px,#f12d19 130.5px,#d53319 135.5px,#884218 136.0px,#884218 189.0px)"></div>
<div style="left:112px;top:251.40px;height:189.10px;background:linear-gradient(#884218 0.0px,#884218 58.0px,#6f4819 58.5px,#614b19 62.5px,#2d571b 70.5px,#24591b 80.0px,#28581b 87.5px,#39541a 92.0px,#694919 94.5px,#df3119 95.0px,#ee2e19 95.5px,#f33719 96.0px,#f7751b 98.0px,#f77b1b 98.5px,#f8871b 101.0px,#f8911b 111.0px,#f7731b 122.0px,#f02d19 131.0px,#da3219 135.0px,#884218 135.5px,#884218 189.0px)"></div>
<div style="left:113px;top:251.40px;height:189.10px;background:linear-gradient(#884218 0.0px,#884218 59.0px,#754619 59.5px,#6d4819 63.0px,#46511a 71.0px,#42521a 87.5px,#4e4f1a 92.0px,#714719 94.5px,#da3219 95.0px,#f23219 96.0px,#f66d1b 98.0px,#f6711b 98.5px,#f77d1b 101.0px,#f8861b 110.5px,#f6691a 121.5px,#f22e19 129.0px,#d63319 134.0px,#884218 134.5px,#884218 189.0px)"></div>
<div style="left:114px;top:251.40px;height:189.10px;background:linear-gradient(#884218 0.0px,#884218 60.0px,#7f4418 60.5px,#664a19 72.0px,#654a19 88.0px,#6b4919 92.0px,#7c4518 94.5px,#c33619 95.0px,#ef2e19 97.0px,#f33519 97.5px,#f34019 98.0px,#f4491a 100.5px,#f4501a 110.0px,#f33f19 119.5px,#f22d19 123.5px,#d03419 129.0px,#c03719 133.0px,#884218 133.5px,#884218 189.0px)"></div>
<div style="left:115px;top:251.40px;height:189.10px;background:linear-gradient(#884218 0.0px,#884218 61.0px,#7a4518 73.0px,#7b4518 91.5px,#834318 94.5px,#a53c18 95.0px,#c73619 98.0px,#cf3419 109.5px,#c53619 120.0px,#a43d18 132.0px,#884218 132.5px,#884218 189.0px)"></div>
<div style="left:116px;top:251.40px;height:189.10px;background:linear-gradient(#884218 0.0px,#8a4218 94.5px,#a03d18 95.0px,#bb3818 98.0px,#c23719 109.5px,#b93818 119.5px,#9e3e18 131.0px,#884218 131.5px,#884218 189.0px)"></div>
<div style="left:117px;top:251.40px;height:189.10px;background:linear-gradient(#884218 0.0px,#884218 63.0px,#8e4118 63.5px,#9c3e18 72.5px,#a03d18 82.0px,#9d3e18 91.5px,#904018 94.5px,#ab3b18 98.0px,#b03a18 109.0px,#a93b18 119.0px,#973f18 130.0px,#884218 130.5px,#884218 189.0px)"></div>
<div style="left:118px;top:251.40px;height:189.10px;background:linear-gradient(#884218 0.0px,#884218 64.5px,#904018 65.0px,#a63c18 76.0px,#a63c18 89.0px,#a13d18 92.5px,#924018 94.5px,#a43c18 98.0px,#a83c18 108.5px,#944018 128.5px,#884218 129.0px,#884218 189.0px)"></div>
<div style="left:119px;top:251.40px;height:189.10px;background:linear-gradient(#884218 0.0px,#884218 65.5px,#904118 66.0px,#a43d18 76.5px,#a33d18 89.5px,#9f3d18 92.5px,#924018 94.5px,#a43d18 97.5px,#a83c18 108.0px,#944018 127.5px,#884218 128.0px,#884218 189.0px)"></div>
<div style="left:120px;top:251.40px;height:189.10px;background:linear-gradient(#884218 0.0px,#884218 66.5px,#953f18 75.0px,#983f18 83.5px,#963f18 92.0px,#8d4118 94.5px,#983f18 95.0px,#ab3b18 97.5px,#b03a18 107.5px,#a93b18 116.5px,#983f18 126.0px,#884218 126.5px,#884218 189.0px)"></div>
<div style="left:121px;top:251.40px;height:189.10px;background:linear-gradient(#884218 0.0px,#844318 92.5px,#864218 94.5px,#a73c18 95.0px,#ca3519 97.5px,#d23319 107.0px,#c63619 115.5px,#a53c18 124.5px,#884218 125.0px,#884218 189.0px)"></div>
<div style="left:122px;top:251.40px;height:189.10px;background:linear-gradient(#884218 0.0px,#884218 69.5px,#814418 70.0px,#704719 78.0px,#6f4819 90.0px,#724719 92.5px,#7f4418 94.5px,#b53918 95.0px,#e92f19 97.5px,#f22f19 106.0px,#e53019 114.0px,#b33918 123.0px,#884218 123.5px,#884218 189.0px)"></div>
<div style="left:123px;top:251.40px;height:189.10px;background:linear-gradient(#884218 0.0px,#884218 71.0px,#7b4518 71.5px,#5b4c19 79.0px,#584d19 90.0px,#604b19 93.0px,#764618 94.5px,#b83818 95.0px,#ec2e19 97.0px,#f33719 105.5px,#ed2e19 112.5px,#b63918 121.5px,#884218 122.0px,#884218 189.0px)"></div>
<div style="left:124px;top:251.40px;height:189.10px;background:linear-gradient(#884218 0.0px,#884218 72.5px,#734719 73.0px,#674919 75.5px,#3c531a 80.5px,#3a541a 90.5px,#46511a 93.0px,#6b4919 94.5px,#b83818 95.0px,#ef2e19 97.0px,#f33719 105.0px,#ed2e19 111.5px,#b53918 120.0px,#884218 120.5px,#884218 189.0px)"></div>
<div style="left:125px;top:251.40px;height:189.10px;background:linear-gradient(#884218 0.0px,#884218 74.5px,#6c4819 75.0px,#5e4b19 77.0px,#2e561b 80.5px,#22591b 82.5px,#1e5a1b 87.0px,#23591b 91.0px,#2f561b 93.0px,#614b19 94.5px,#b93818 95.0px,#f02d19 97.0px,#f33719 104.0px,#ec2e19 110.5px,#b63918 118.0px,#884218 118.5px,#884218 189.0px)"></div>
<div style="left:126px;top:251.40px;height:189.10px;background:linear-gradient(#884218 0.0px,#884218 76.5px,#6c4819 77.0px,#5b4c19 79.0px,#2d571b 82.0px,#21591b 84.0px,#1e5a1b 88.0px,#24591b 91.5px,#36551a 93.5px,#5f4b19 94.5px,#b83918 95.0px,#e82f19 96.5px,#f22f19 98.0px,#f23419 103.5px,#ea2f19 109.0px,#b43918 116.0px,#884218 116.5px,#884218 189.0px)"></div>
<div style="left:127px;top:251.40px;height:189.10px;background:linear-gradient(#884218 0.0px,#884218 78.5px,#6d4819 79.0px,#5b4c19 81.0px,#2f561b 83.5px,#23591b 85.0px,#1e5a1b 88.5px,#22591b 91.5px,#31561a 93.5px,#5d4c19 94.5px,#b53918 95.0px,#e62f19 96.5px,#f22d19 102.0px,#e23019 107.5px,#b13a18 113.5px,#884218 114.0px,#884218 189.0px)"></div>
<div style="left:128px;top:251.40px;height:189.10px;background:linear-gradient(#884218 0.0px,#884218 81.5px,#6c4819 82.0px,#594d19 83.5px,#30561b 85.5px,#23591b 87.0px,#20591b 89.5px,#24591b 92.0px,#2f561b 93.5px,#3e531a 94.0px,#5a4c19 94.5px,#b43918 95.0px,#db3119 96.0px,#e53019 96.5px,#ef2e19 101.0px,#e03119 105.5px,#b13a18 110.5px,#884218 111.0px,#884218 189.0px)"></div>
<div style="left:129px;top:251.40px;height:189.10px;background:linear-gradient(#884218 0.0px,#884218 85.0px,#6d4819 85.5px,#5d4c19 86.5px,#38541a 88.0px,#2e561b 89.0px,#2b571b 91.0px,#2f561b 93.0px,#3a541a 94.0px,#584d19 94.5px,#b03a18 95.0px,#db3219 96.0px,#e53019 99.5px,#d73219 103.0px,#ae3a18 106.5px,#884218 107.0px,#884218 189.0px)"></div>
<div style="left:130px;top:251.40px;height:189.10px;background:linear-gradient(#884218 0.0px,#884218 90.5px,#5f4b19 91.5px,#42521a 92.0px,#36551a 92.5px,#34551a 93.5px,#3f521a 94.5px,#b03a18 95.0px,#d53319 95.5px,#dd3119 97.0px,#cf3419 98.5px,#ab3b18 100.0px,#884218 100.5px,#884218 189.0px)"></div>
</div></div>
<svg width="520" height="468" viewBox="0 0 520 468"><defs><linearGradient id="cbg" x1="0" y1="0" x2="0" y2="1"><stop offset="0.0003" stop-color="#000000"/><stop offset="0.2022" stop-color="#080ea8"/><stop offset="0.4041" stop-color="#1e5a1b"/><stop offset="0.5051" stop-color="#884218"/><stop offset="0.6061" stop-color="#f22d19"/><stop offset="0.8080" stop-color="#fff51e"/><stop offset="1.0099" stop-color="#ffffff"/></linearGradient></defs>
<rect x="1.90" y="0.40" width="516.90" height="230.80" rx="2.5" fill="none" stroke="#333" stroke-width="1.6"/>
<text x="3.30" y="15.70" class="lab">A</text>
<text x="31.00" y="19.85" class="t8" text-anchor="end">250</text>
<text x="31.00" y="57.15" class="t8" text-anchor="end">350</text>
<text x="31.00" y="93.20" class="t8" text-anchor="end">450</text>
<text x="31.00" y="129.65" class="t8" text-anchor="end">550</text>
<text x="31.00" y="166.75" class="t8" text-anchor="end">650</text>
<text x="31.00" y="203.30" class="t8" text-anchor="end">750</text>
<text x="33.20" y="213.80" class="t8" text-anchor="middle">0</text>
<text x="70.50" y="213.80" class="t8" text-anchor="middle">100</text>
<text x="107.30" y="213.80" class="t8" text-anchor="middle">200</text>
<text x="88.30" y="223.50" class="al" text-anchor="middle">z, px</text>
<text transform="translate(79.55 223.70) scale(1.35 1)" class="tl" text-anchor="middle">˜</text>
<g transform="translate(12.40 110.60) rotate(-90)"><text x="0" y="0" class="al" text-anchor="middle">y, px</text><text transform="translate(-8.75 0.70) scale(1.35 1)" class="tl" text-anchor="middle">˜</text></g>
<rect x="157.70" y="16.30" width="9.70" height="186.70" fill="url(#cbg)" stroke="#b0b0b0" stroke-width="0.6"/>
<text x="169.70" y="37.55" class="t7">0.4</text>
<text x="169.70" y="75.10" class="t7">0.2</text>
<text x="169.70" y="112.80" class="t7">0.0</text>
<text x="169.70" y="151.00" class="t7">−0.2</text>
<text x="169.70" y="188.40" class="t7">−0.4</text>
<text x="162.60" y="11.60" class="t8" text-anchor="middle">MG</text>
<line x1="239.50" x2="239.50" y1="15.20" y2="203.30" class="grid"/>
<text x="239.50" y="212.60" class="t85" text-anchor="middle">0</text>
<line x1="289.60" x2="289.60" y1="15.20" y2="203.30" class="grid"/>
<text x="289.60" y="212.60" class="t85" text-anchor="middle">200</text>
<line x1="339.70" x2="339.70" y1="15.20" y2="203.30" class="grid"/>
<text x="339.70" y="212.60" class="t85" text-anchor="middle">400</text>
<line x1="389.80" x2="389.80" y1="15.20" y2="203.30" class="grid"/>
<text x="389.80" y="212.60" class="t85" text-anchor="middle">600</text>
<line x1="439.90" x2="439.90" y1="15.20" y2="203.30" class="grid"/>
<text x="439.90" y="212.60" class="t85" text-anchor="middle">800</text>
<line x1="490.00" x2="490.00" y1="15.20" y2="203.30" class="grid"/>
<text x="490.00" y="212.60" class="t85" text-anchor="middle">1000</text>
<line x1="227.00" x2="508.30" y1="185.25" y2="185.25" class="grid"/>
<text x="224.30" y="188.85" class="t85" text-anchor="end">−0.2</text>
<line x1="227.00" x2="508.30" y1="147.25" y2="147.25" class="grid"/>
<text x="224.30" y="150.85" class="t85" text-anchor="end">−0.1</text>
<line x1="227.00" x2="508.30" y1="109.25" y2="109.25" class="grid"/>
<text x="224.30" y="112.85" class="t85" text-anchor="end">0.0</text>
<line x1="227.00" x2="508.30" y1="71.25" y2="71.25" class="grid"/>
<text x="224.30" y="74.85" class="t85" text-anchor="end">0.1</text>
<line x1="227.00" x2="508.30" y1="33.25" y2="33.25" class="grid"/>
<text x="224.30" y="36.85" class="t85" text-anchor="end">0.2</text>
<path d="M239.50 109.25 L332.11 109.25 L332.11 85.69 L339.70 66.25 L340.08 64.49 L340.45 62.71 L340.83 60.93 L341.20 59.15 L341.58 57.36 L341.95 55.58 L342.33 53.81 L342.71 52.05 L343.08 50.31 L343.46 48.59 L343.83 46.90 L344.21 45.24 L344.58 43.62 L344.96 42.04 L345.34 40.50 L345.71 39.01 L346.09 37.58 L346.46 36.21 L346.84 34.90 L347.22 33.66 L347.59 32.48 L347.97 31.38 L348.34 30.36 L348.72 29.42 L349.09 28.56 L349.47 27.79 L349.85 27.11 L350.22 26.52 L350.60 26.02 L350.97 25.61 L351.35 25.30 L351.72 25.09 L352.10 24.97 L352.48 24.95 L352.85 25.02 L353.23 25.19 L353.60 25.45 L353.98 25.80 L354.35 26.24 L354.73 26.75 L355.11 27.20 L355.48 27.62 L355.86 28.06 L356.23 28.55 L356.61 29.10 L356.98 29.71 L357.36 30.39 L357.74 31.15 L358.11 32.00 L358.49 32.93 L358.86 33.95 L359.24 35.06 L359.61 36.26 L359.99 37.56 L360.37 38.95 L360.74 40.43 L361.12 42.00 L361.49 43.66 L361.87 45.40 L362.25 47.23 L362.62 49.13 L363.00 51.11 L363.37 53.16 L363.75 55.28 L364.12 57.45 L364.50 59.68 L364.60 64.41 L366.90 23.79 L368.51 194.37 L370.61 153.48 L370.89 154.65 L371.26 156.98 L371.64 159.27 L372.01 161.50 L372.39 163.66 L372.77 165.76 L373.14 167.79 L373.52 169.74 L373.89 171.62 L374.27 173.41 L374.64 175.11 L375.02 176.73 L375.40 178.26 L375.77 179.70 L376.15 181.04 L376.52 182.30 L376.90 183.47 L377.27 184.55 L377.65 185.54 L378.03 186.45 L378.40 187.28 L378.78 188.04 L379.15 188.72 L379.53 189.35 L379.91 189.91 L380.28 190.44 L380.66 190.94 L381.03 191.46 L381.41 192.02 L381.78 192.52 L382.16 192.96 L382.54 193.34 L382.91 193.65 L383.29 193.88 L383.66 194.03 L384.04 194.10 L384.41 194.09 L384.79 193.99 L385.17 193.80 L385.54 193.53 L385.92 193.17 L386.29 192.72 L386.67 192.19 L387.04 191.58 L387.42 190.88 L387.80 190.10 L388.17 189.23 L388.55 188.29 L388.92 187.28 L389.30 186.19 L389.67 185.03 L390.05 183.80 L390.43 182.51 L390.80 181.15 L391.18 179.74 L391.55 178.28 L391.93 176.76 L392.31 175.20 L392.68 173.60 L393.06 171.96 L393.43 170.28 L393.81 168.58 L394.18 166.85 L394.56 165.10 L394.94 163.34 L395.31 161.57 L395.69 159.78 L396.06 158.00 L396.44 156.22 L396.81 154.44 L397.19 152.67 L398.09 142.54 L400.40 136.76 L404.48 131.06 L404.48 109.25 L495.76 109.25" fill="none" stroke="#4589c2" stroke-width="1.00" stroke-linejoin="round"/>
<path d="M239.50 109.25 L309.64 109.24 L310.14 109.23 L310.64 109.23 L311.14 109.22 L311.64 109.22 L312.14 109.21 L312.65 109.20 L313.15 109.19 L313.65 109.18 L314.15 109.16 L314.65 109.14 L315.15 109.12 L315.65 109.09 L316.15 109.06 L316.65 109.03 L317.15 108.99 L317.66 108.94 L318.16 108.88 L318.66 108.81 L319.16 108.74 L319.66 108.65 L320.16 108.54 L320.66 108.43 L321.16 108.29 L321.66 108.14 L322.17 107.97 L322.67 107.77 L323.17 107.55 L323.67 107.30 L324.17 107.02 L324.67 106.70 L325.17 106.35 L325.67 105.96 L326.17 105.53 L326.67 105.05 L327.18 104.53 L327.68 103.95 L328.18 103.31 L328.68 102.62 L329.18 101.87 L329.68 101.05 L330.18 100.17 L330.68 99.22 L331.18 98.19 L331.68 97.10 L332.19 95.92 L332.69 94.67 L333.19 93.35 L333.69 91.95 L334.19 90.47 L334.69 88.91 L335.19 87.28 L335.69 85.58 L336.19 83.81 L336.69 81.97 L337.19 80.07 L337.70 78.11 L338.20 76.09 L338.70 74.03 L339.20 71.93 L339.70 69.80 L340.20 67.64 L340.70 65.47 L341.20 63.28 L341.70 61.10 L342.20 58.93 L342.71 56.77 L343.21 54.65 L343.71 52.56 L344.21 50.52 L344.71 48.55 L345.21 46.64 L345.71 44.81 L346.21 43.07 L346.71 41.43 L347.22 39.90 L347.72 38.48 L348.22 37.18 L348.72 36.01 L349.22 34.98 L349.72 34.09 L350.22 33.35 L350.72 32.76 L351.22 32.32 L351.72 32.04 L352.23 31.91 L352.73 31.94 L353.23 32.13 L353.73 32.47 L354.23 32.95 L354.73 33.56 L355.23 34.29 L355.73 35.17 L356.23 36.21 L356.73 37.43 L357.24 38.83 L357.74 40.41 L358.24 42.20 L358.74 44.18 L359.24 46.35 L359.74 48.73 L360.24 51.30 L360.74 54.07 L361.24 57.02 L361.74 60.16 L362.25 63.47 L362.75 66.94 L363.25 70.57 L363.75 74.35 L364.25 78.26 L364.75 82.28 L365.25 86.40 L365.75 90.62 L366.25 94.90 L366.75 99.24 L367.25 103.61 L367.76 108.01 L368.26 112.40 L368.76 116.78 L369.26 121.13 L369.76 125.43 L370.26 129.66 L370.76 133.80 L371.26 137.85 L371.76 141.79 L372.26 145.60 L372.77 149.27 L373.27 152.80 L373.77 156.16 L374.27 159.36 L374.77 162.38 L375.27 165.22 L375.77 167.88 L376.27 170.35 L376.77 172.62 L377.27 174.71 L377.78 176.61 L378.28 178.32 L378.78 179.85 L379.28 181.20 L379.78 182.39 L380.28 183.41 L380.78 184.29 L381.28 185.02 L381.78 185.64 L382.28 186.17 L382.79 186.59 L383.29 186.89 L383.79 187.06 L384.29 187.10 L384.79 186.99 L385.29 186.75 L385.79 186.36 L386.29 185.83 L386.79 185.16 L387.29 184.36 L387.80 183.42 L388.30 182.35 L388.80 181.15 L389.30 179.83 L389.80 178.40 L390.30 176.86 L390.80 175.22 L391.30 173.48 L391.80 171.65 L392.31 169.75 L392.81 167.79 L393.31 165.76 L393.81 163.68 L394.31 161.56 L394.81 159.42 L395.31 157.25 L395.81 155.07 L396.31 152.88 L396.81 150.71 L397.31 148.55 L397.82 146.41 L398.32 144.31 L398.82 142.24 L399.32 140.22 L399.82 138.25 L400.32 136.34 L400.82 134.49 L401.32 132.71 L401.82 131.00 L402.32 129.36 L402.83 127.80 L403.33 126.31 L403.83 124.90 L404.33 123.57 L404.83 122.31 L405.33 121.14 L405.83 120.04 L406.33 119.01 L406.83 118.06 L407.34 117.18 L407.84 116.37 L408.34 115.62 L408.84 114.94 L409.34 114.31 L409.84 113.74 L410.34 113.22 L410.84 112.76 L411.34 112.33 L411.84 111.95 L412.35 111.62 L412.85 111.31 L413.35 111.04 L413.85 110.80 L414.35 110.59 L414.85 110.41 L415.35 110.24 L415.85 110.10 L416.35 109.98 L416.85 109.87 L417.36 109.77 L417.86 109.69 L418.36 109.62 L418.86 109.56 L419.36 109.51 L419.86 109.47 L420.36 109.43 L420.86 109.40 L421.36 109.38 L421.86 109.35 L422.37 109.33 L422.87 109.32 L423.37 109.31 L423.87 109.30 L424.37 109.29 L424.87 109.28 L425.37 109.27 L425.87 109.27 L426.37 109.27 L426.87 109.26 L427.38 109.26 L427.88 109.26 L428.38 109.26 L428.88 109.25 L429.38 109.25 L495.76 109.25" fill="none" stroke="#f4a05a" stroke-width="1.00" stroke-linejoin="round"/>
<rect x="227.00" y="15.20" width="281.30" height="188.10" fill="none" stroke="#bdbdbd" stroke-width="1.2"/>
<text transform="translate(199.80 108.50) rotate(-90)" class="al" text-anchor="middle">B, MG</text>
<text x="367.70" y="223.50" class="al" text-anchor="middle">y, px</text>
<text transform="translate(358.95 222.80) scale(1.35 1)" class="tl" text-anchor="middle">˜</text>
<rect x="406.25" y="19.50" width="98.75" height="28.00" rx="2" fill="#fff" stroke="#efefef" stroke-width="0.8"/>
<line x1="408.75" x2="428.00" y1="26.75" y2="26.75" stroke="#1f77b4" stroke-width="1.4"/>
<text x="434.50" y="29.85" class="t87">Reconstruction</text>
<line x1="408.75" x2="428.00" y1="39.50" y2="39.50" stroke="#ff7f0e" stroke-width="1.4"/>
<text x="434.50" y="42.60" class="t87">Reference</text>
<rect x="0.40" y="235.90" width="518.40" height="230.90" rx="2.5" fill="none" stroke="#333" stroke-width="1.6"/>
<text x="3.60" y="250.20" class="lab">B</text>
<text x="31.40" y="255.15" class="t8" text-anchor="end">250</text>
<text x="31.40" y="292.45" class="t8" text-anchor="end">350</text>
<text x="31.40" y="328.50" class="t8" text-anchor="end">450</text>
<text x="31.40" y="364.95" class="t8" text-anchor="end">550</text>
<text x="31.40" y="402.05" class="t8" text-anchor="end">650</text>
<text x="31.40" y="438.60" class="t8" text-anchor="end">750</text>
<text x="33.60" y="450.00" class="t8" text-anchor="middle">0</text>
<text x="70.90" y="450.00" class="t8" text-anchor="middle">100</text>
<text x="107.70" y="450.00" class="t8" text-anchor="middle">200</text>
<text x="88.90" y="459.50" class="al" text-anchor="middle">z, px</text>
<text transform="translate(80.15 459.70) scale(1.35 1)" class="tl" text-anchor="middle">˜</text>
<g transform="translate(12.40 345.90) rotate(-90)"><text x="0" y="0" class="al" text-anchor="middle">y, px</text><text transform="translate(-8.75 0.70) scale(1.35 1)" class="tl" text-anchor="middle">˜</text></g>
<rect x="158.40" y="252.40" width="9.70" height="187.30" fill="url(#cbg)" stroke="#b0b0b0" stroke-width="0.6"/>
<text x="170.40" y="273.75" class="t7">0.4</text>
<text x="170.40" y="311.30" class="t7">0.2</text>
<text x="170.40" y="349.00" class="t7">0.0</text>
<text x="170.40" y="387.20" class="t7">−0.2</text>
<text x="170.40" y="424.60" class="t7">−0.4</text>
<text x="163.20" y="246.90" class="t8" text-anchor="middle">MG</text>
<line x1="240.50" x2="240.50" y1="250.60" y2="439.60" class="grid"/>
<text x="240.50" y="449.00" class="t85" text-anchor="middle">0</text>
<line x1="290.80" x2="290.80" y1="250.60" y2="439.60" class="grid"/>
<text x="290.80" y="449.00" class="t85" text-anchor="middle">200</text>
<line x1="341.10" x2="341.10" y1="250.60" y2="439.60" class="grid"/>
<text x="341.10" y="449.00" class="t85" text-anchor="middle">400</text>
<line x1="391.40" x2="391.40" y1="250.60" y2="439.60" class="grid"/>
<text x="391.40" y="449.00" class="t85" text-anchor="middle">600</text>
<line x1="441.70" x2="441.70" y1="250.60" y2="439.60" class="grid"/>
<text x="441.70" y="449.00" class="t85" text-anchor="middle">800</text>
<line x1="492.00" x2="492.00" y1="250.60" y2="439.60" class="grid"/>
<text x="492.00" y="449.00" class="t85" text-anchor="middle">1000</text>
<line x1="228.30" x2="511.00" y1="421.95" y2="421.95" class="grid"/>
<text x="225.30" y="425.55" class="t85" text-anchor="end">−0.2</text>
<line x1="228.30" x2="511.00" y1="383.35" y2="383.35" class="grid"/>
<text x="225.30" y="386.95" class="t85" text-anchor="end">−0.1</text>
<line x1="228.30" x2="511.00" y1="344.75" y2="344.75" class="grid"/>
<text x="225.30" y="348.35" class="t85" text-anchor="end">0.0</text>
<line x1="228.30" x2="511.00" y1="306.15" y2="306.15" class="grid"/>
<text x="225.30" y="309.75" class="t85" text-anchor="end">0.1</text>
<line x1="228.30" x2="511.00" y1="267.55" y2="267.55" class="grid"/>
<text x="225.30" y="271.15" class="t85" text-anchor="end">0.2</text>
<path d="M240.50 344.75 L333.48 344.75 L333.48 320.82 L341.10 301.07 L341.48 299.28 L341.85 297.48 L342.23 295.67 L342.61 293.86 L342.99 292.04 L343.36 290.23 L343.74 288.43 L344.12 286.65 L344.50 284.88 L344.87 283.13 L345.25 281.41 L345.63 279.73 L346.00 278.08 L346.38 276.47 L346.76 274.91 L347.14 273.40 L347.51 271.95 L347.89 270.56 L348.27 269.23 L348.64 267.96 L349.02 266.77 L349.40 265.65 L349.78 264.62 L350.15 263.66 L350.53 262.79 L350.91 262.01 L351.29 261.31 L351.66 260.71 L352.04 260.20 L352.42 259.79 L352.79 259.47 L353.17 259.26 L353.55 259.14 L353.93 259.12 L354.30 259.19 L354.68 259.36 L355.06 259.63 L355.44 259.99 L355.81 260.43 L356.19 260.95 L356.57 261.54 L356.94 262.22 L357.32 263.00 L357.70 263.88 L358.08 264.87 L358.45 265.97 L358.83 267.19 L359.21 268.53 L359.59 269.99 L359.96 271.58 L360.34 273.28 L360.72 275.11 L361.09 277.06 L361.47 279.14 L361.85 281.34 L362.23 283.65 L362.60 286.09 L362.98 288.63 L363.36 291.29 L363.74 294.06 L364.11 296.93 L364.49 299.90 L364.87 302.96 L365.24 306.11 L365.62 309.34 L366.00 312.64 L366.38 316.02 L366.75 319.45 L367.13 322.94 L367.51 326.48 L367.88 330.06 L368.26 333.66 L368.64 337.29 L369.02 340.94 L369.39 344.59 L369.77 348.24 L370.15 351.88 L370.53 355.50 L370.90 359.10 L371.28 362.66 L371.66 366.18 L372.03 369.65 L372.41 373.07 L372.79 376.42 L373.17 379.70 L373.54 382.91 L373.92 386.03 L374.30 389.06 L374.68 392.01 L375.05 394.85 L375.43 397.59 L375.81 400.23 L376.18 402.76 L376.56 405.18 L376.94 407.48 L377.32 409.66 L377.69 411.73 L378.07 413.68 L378.45 415.51 L378.82 417.23 L379.20 418.82 L379.58 420.30 L379.96 421.67 L380.33 422.92 L380.71 424.06 L381.09 425.10 L381.47 426.03 L381.84 426.86 L382.22 427.60 L382.60 428.26 L382.97 428.83 L383.35 429.34 L383.73 429.78 L384.11 430.17 L384.48 430.48 L384.86 430.72 L385.24 430.87 L385.62 430.94 L385.99 430.93 L386.37 430.83 L386.75 430.64 L387.12 430.36 L387.50 429.99 L387.88 429.54 L388.26 429.00 L388.63 428.38 L389.01 427.67 L389.39 426.87 L389.77 426.00 L390.14 425.04 L390.52 424.01 L390.90 422.90 L391.27 421.72 L391.65 420.48 L392.03 419.16 L392.41 417.79 L392.78 416.35 L393.16 414.87 L393.54 413.33 L393.91 411.74 L394.29 410.11 L394.67 408.45 L395.05 406.75 L395.42 405.02 L395.80 403.26 L396.18 401.49 L396.56 399.70 L396.93 397.89 L397.31 396.08 L397.69 394.27 L398.06 392.46 L398.44 390.65 L398.82 388.86 L399.72 378.56 L402.04 372.70 L406.14 366.91 L406.14 344.75 L497.78 344.75" fill="none" stroke="#4589c2" stroke-width="1.00" stroke-linejoin="round"/>
<path d="M240.50 344.75 L310.92 344.74 L311.42 344.73 L311.93 344.73 L312.43 344.72 L312.93 344.72 L313.44 344.71 L313.94 344.70 L314.44 344.69 L314.94 344.68 L315.45 344.66 L315.95 344.64 L316.45 344.62 L316.96 344.59 L317.46 344.56 L317.96 344.52 L318.47 344.48 L318.97 344.43 L319.47 344.37 L319.97 344.31 L320.48 344.23 L320.98 344.14 L321.48 344.03 L321.99 343.91 L322.49 343.78 L322.99 343.62 L323.50 343.45 L324.00 343.25 L324.50 343.02 L325.00 342.77 L325.51 342.48 L326.01 342.16 L326.51 341.81 L327.02 341.41 L327.52 340.97 L328.02 340.49 L328.52 339.95 L329.03 339.36 L329.53 338.72 L330.03 338.02 L330.54 337.25 L331.04 336.42 L331.54 335.53 L332.05 334.56 L332.55 333.52 L333.05 332.40 L333.56 331.21 L334.06 329.94 L334.56 328.60 L335.06 327.17 L335.57 325.67 L336.07 324.09 L336.57 322.43 L337.08 320.71 L337.58 318.90 L338.08 317.04 L338.58 315.10 L339.09 313.11 L339.59 311.07 L340.09 308.98 L340.60 306.84 L341.10 304.68 L341.60 302.49 L342.11 300.28 L342.61 298.06 L343.11 295.84 L343.62 293.63 L344.12 291.44 L344.62 289.28 L345.12 287.17 L345.63 285.10 L346.13 283.09 L346.63 281.15 L347.14 279.30 L347.64 277.53 L348.14 275.86 L348.64 274.30 L349.15 272.86 L349.65 271.54 L350.15 270.36 L350.66 269.31 L351.16 268.40 L351.66 267.65 L352.17 267.05 L352.67 266.60 L353.17 266.32 L353.68 266.19 L354.18 266.22 L354.68 266.41 L355.18 266.76 L355.69 267.25 L356.19 267.87 L356.69 268.61 L357.20 269.50 L357.70 270.56 L358.20 271.79 L358.70 273.21 L359.21 274.83 L359.71 276.64 L360.21 278.65 L360.72 280.86 L361.22 283.27 L361.72 285.89 L362.23 288.70 L362.73 291.70 L363.23 294.88 L363.74 298.24 L364.24 301.78 L364.74 305.46 L365.24 309.30 L365.75 313.27 L366.25 317.35 L366.75 321.54 L367.26 325.82 L367.76 330.17 L368.26 334.58 L368.76 339.02 L369.27 343.49 L369.77 347.95 L370.27 352.40 L370.78 356.82 L371.28 361.18 L371.78 365.48 L372.29 369.69 L372.79 373.80 L373.29 377.80 L373.79 381.67 L374.30 385.41 L374.80 388.98 L375.30 392.40 L375.81 395.65 L376.31 398.72 L376.81 401.61 L377.32 404.30 L377.82 406.81 L378.32 409.12 L378.82 411.24 L379.33 413.17 L379.83 414.91 L380.33 416.46 L380.84 417.84 L381.34 419.04 L381.84 420.08 L382.35 420.97 L382.85 421.72 L383.35 422.35 L383.86 422.89 L384.36 423.32 L384.86 423.62 L385.36 423.79 L385.87 423.83 L386.37 423.72 L386.87 423.47 L387.38 423.08 L387.88 422.54 L388.38 421.86 L388.88 421.05 L389.39 420.09 L389.89 419.00 L390.39 417.79 L390.90 416.45 L391.40 414.99 L391.90 413.43 L392.41 411.76 L392.91 409.99 L393.41 408.14 L393.91 406.21 L394.42 404.21 L394.92 402.15 L395.42 400.04 L395.93 397.89 L396.43 395.71 L396.93 393.50 L397.44 391.29 L397.94 389.07 L398.44 386.86 L398.94 384.67 L399.45 382.50 L399.95 380.36 L400.45 378.26 L400.96 376.21 L401.46 374.21 L401.96 372.27 L402.47 370.39 L402.97 368.58 L403.47 366.84 L403.98 365.18 L404.48 363.59 L404.98 362.08 L405.48 360.65 L405.99 359.29 L406.49 358.02 L406.99 356.83 L407.50 355.71 L408.00 354.67 L408.50 353.70 L409.00 352.81 L409.51 351.98 L410.01 351.22 L410.51 350.53 L411.02 349.89 L411.52 349.31 L412.02 348.79 L412.53 348.31 L413.03 347.88 L413.53 347.50 L414.03 347.15 L414.54 346.84 L415.04 346.57 L415.54 346.33 L416.05 346.11 L416.55 345.92 L417.05 345.76 L417.56 345.61 L418.06 345.49 L418.56 345.38 L419.06 345.28 L419.57 345.20 L420.07 345.13 L420.57 345.07 L421.08 345.02 L421.58 344.97 L422.08 344.94 L422.59 344.90 L423.09 344.88 L423.59 344.86 L424.10 344.84 L424.60 344.82 L425.10 344.81 L425.60 344.80 L426.11 344.79 L426.61 344.78 L427.11 344.77 L427.62 344.77 L428.12 344.77 L428.62 344.76 L429.12 344.76 L429.63 344.76 L430.13 344.76 L430.63 344.75 L431.14 344.75 L497.78 344.75" fill="none" stroke="#f4a05a" stroke-width="1.00" stroke-linejoin="round"/>
<rect x="228.30" y="250.60" width="282.70" height="189.00" fill="none" stroke="#bdbdbd" stroke-width="1.2"/>
<text transform="translate(200.80 344.50) rotate(-90)" class="al" text-anchor="middle">B, MG</text>
<text x="369.20" y="459.50" class="al" text-anchor="middle">y, px</text>
<text transform="translate(360.45 458.80) scale(1.35 1)" class="tl" text-anchor="middle">˜</text>
<rect x="407.80" y="255.00" width="99.20" height="28.00" rx="2" fill="#fff" stroke="#efefef" stroke-width="0.8"/>
<line x1="410.30" x2="429.55" y1="262.25" y2="262.25" stroke="#1f77b4" stroke-width="1.4"/>
<text x="436.05" y="265.35" class="t87">Reconstruction</text>
<line x1="410.30" x2="429.55" y1="275.00" y2="275.00" stroke="#ff7f0e" stroke-width="1.4"/>
<text x="436.05" y="278.10" class="t87">Reference</text>
</svg></div></body></html>
